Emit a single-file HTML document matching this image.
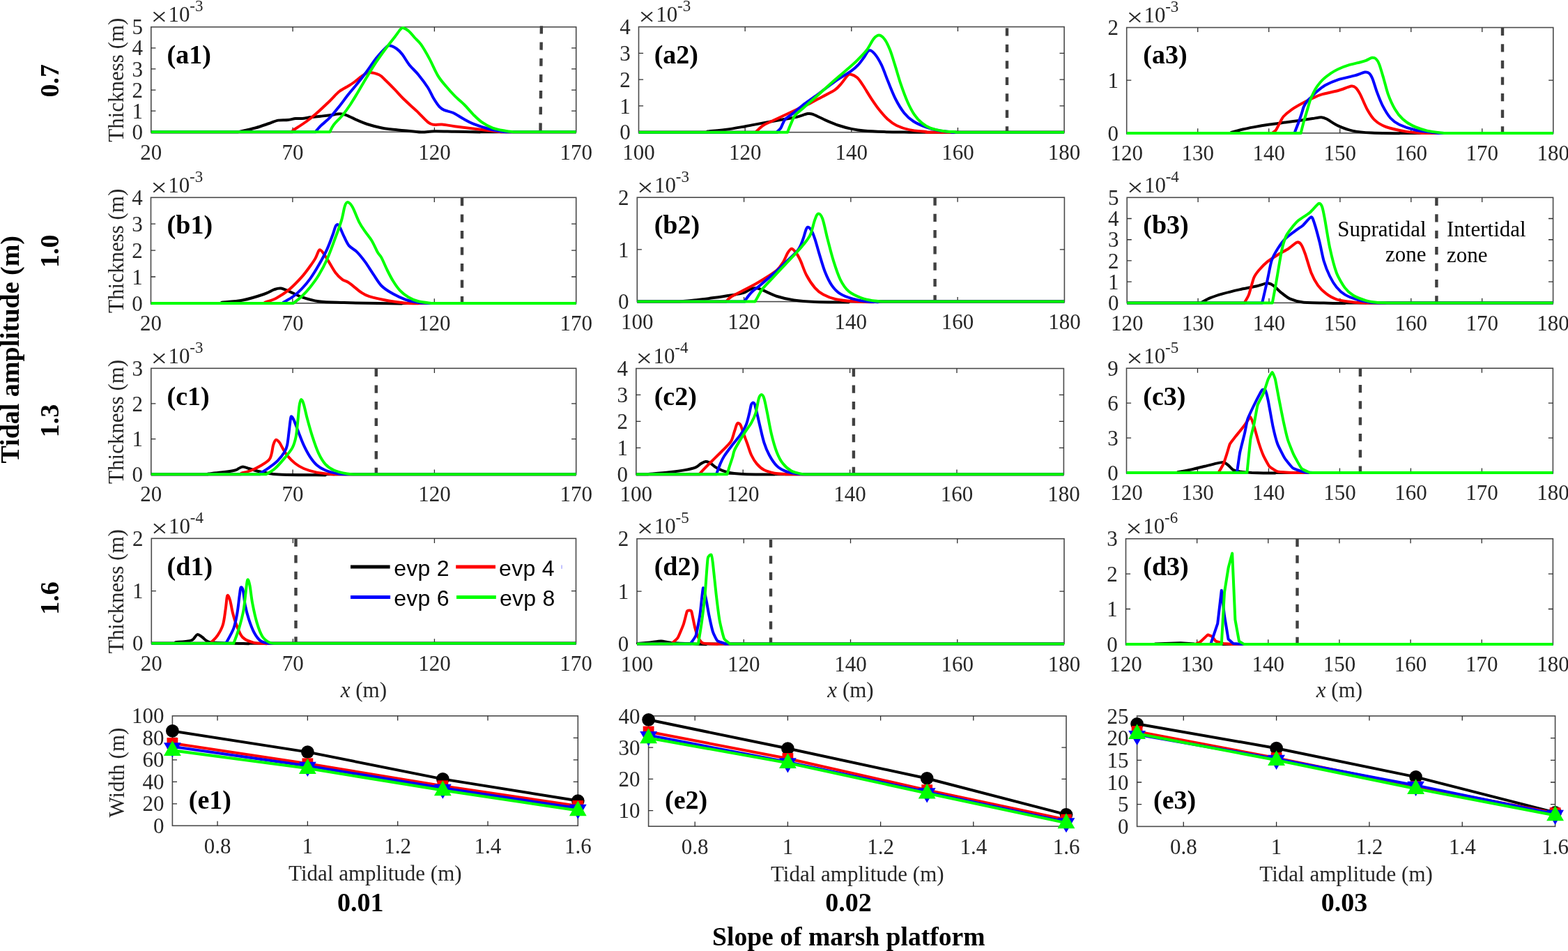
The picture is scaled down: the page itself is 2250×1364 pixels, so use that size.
<!DOCTYPE html><html><head><meta charset="utf-8"><title>Figure</title><style>html,body{margin:0;padding:0;background:#fff;overflow:hidden;}svg{display:block;}text{white-space:pre;}</style></head><body>
<svg width="2250" height="1364" viewBox="0 0 2250 1364">
<rect width="2250" height="1364" fill="#fff"/>
<rect x="216.8" y="38.7" width="609.9" height="150.6" fill="none" stroke="#4a4a4a" stroke-width="1.6"/>
<path d="M420.1,189.3v-6.6M420.1,38.7v6.6M623.4,189.3v-6.6M623.4,38.7v6.6M216.8,159.18h6.6M826.7,159.18h-6.6M216.8,129.06h6.6M826.7,129.06h-6.6M216.8,98.94h6.6M826.7,98.94h-6.6M216.8,68.82h6.6M826.7,68.82h-6.6" stroke="#2e2e2e" stroke-width="1.3" fill="none"/>
<text x="216.8" y="228.5" font-size="31" text-anchor="middle" font-weight="normal" fill="#262626" font-family="'Liberation Serif','Times New Roman',serif">20</text>
<text x="420.1" y="228.5" font-size="31" text-anchor="middle" font-weight="normal" fill="#262626" font-family="'Liberation Serif','Times New Roman',serif">70</text>
<text x="623.4" y="228.5" font-size="31" text-anchor="middle" font-weight="normal" fill="#262626" font-family="'Liberation Serif','Times New Roman',serif">120</text>
<text x="826.7" y="228.5" font-size="31" text-anchor="middle" font-weight="normal" fill="#262626" font-family="'Liberation Serif','Times New Roman',serif">170</text>
<text x="205" y="199.9" font-size="31" text-anchor="end" font-weight="normal" fill="#262626" font-family="'Liberation Serif','Times New Roman',serif">0</text>
<text x="205" y="169.78" font-size="31" text-anchor="end" font-weight="normal" fill="#262626" font-family="'Liberation Serif','Times New Roman',serif">1</text>
<text x="205" y="139.66" font-size="31" text-anchor="end" font-weight="normal" fill="#262626" font-family="'Liberation Serif','Times New Roman',serif">2</text>
<text x="205" y="109.54" font-size="31" text-anchor="end" font-weight="normal" fill="#262626" font-family="'Liberation Serif','Times New Roman',serif">3</text>
<text x="205" y="79.42" font-size="31" text-anchor="end" font-weight="normal" fill="#262626" font-family="'Liberation Serif','Times New Roman',serif">4</text>
<text x="205" y="49.3" font-size="31" text-anchor="end" font-weight="normal" fill="#262626" font-family="'Liberation Serif','Times New Roman',serif">5</text>
<text x="0" y="0" font-size="35" text-anchor="start" font-weight="normal" fill="#262626" font-family="'Liberation Serif','Times New Roman',serif" transform="translate(216.5,36.1) scale(1.2,1)">×</text>
<text x="241.6" y="31.3" font-size="31" text-anchor="start" font-weight="normal" fill="#262626" font-family="'Liberation Serif','Times New Roman',serif">10</text>
<text x="272.3" y="16.1" font-size="23" text-anchor="start" font-weight="normal" fill="#262626" font-family="'Liberation Serif','Times New Roman',serif">-3</text>
<line x1="776.9" y1="37.3" x2="775.5" y2="188.8" stroke="#404040" stroke-width="4.4" stroke-dasharray="11.13 12.05"/>
<path d="M216.8,189.3 L341.5,189.3 L341.5,189.2 C345.65,188.25 358.93,185.53 366.4,183.5 C373.87,181.47 380.9,178.82 386.3,177 C391.7,175.18 394.3,173.43 398.8,172.6 C403.3,171.77 409.1,172.43 413.3,172 C417.5,171.57 420.67,170.33 424,170 C427.33,169.67 429.52,170.33 433.3,170 C437.08,169.67 442.25,168.55 446.7,168 C451.15,167.45 455.57,167.15 460,166.7 C464.43,166.25 468.63,165.87 473.3,165.3 C477.97,164.73 484,163.3 488,163.3 C492,163.3 493.08,163.73 497.3,165.3 C501.52,166.87 508.4,170.58 513.3,172.7 C518.2,174.82 521.13,176.23 526.7,178 C532.27,179.77 541.15,182.08 546.7,183.3 C552.25,184.52 554.45,184.65 560,185.3 C565.55,185.95 572.63,186.48 580,187.2 C587.37,187.92 596.95,189.43 604.2,189.6 C611.45,189.77 615.43,188.35 623.5,188.2 C631.57,188.05 641.7,188.5 652.6,188.7 C663.5,188.9 682.85,189.28 688.9,189.4 L688.9,189.3 L826.7,189.3" fill="none" stroke="#000000" stroke-width="4.0" stroke-linejoin="round" stroke-linecap="butt"/>
<path d="M216.8,189.3 L420,189.3 L420,187.3 C423.33,185.08 434.45,178 440,174 C445.55,170 447.75,168.18 453.3,163.3 C458.85,158.42 467.73,150.03 473.3,144.7 C478.87,139.37 482.25,134.87 486.7,131.3 C491.15,127.73 496.45,125.52 500,123.3 C503.55,121.08 504.67,120.43 508,118 C511.33,115.57 516.45,111.03 520,108.7 C523.55,106.37 525.3,104.23 529.3,104 C533.3,103.77 540,105.42 544,107.3 C548,109.18 549.52,111.73 553.3,115.3 C557.08,118.87 562.25,124.12 566.7,128.7 C571.15,133.28 574.77,137.68 580,142.8 C585.23,147.92 592.45,154.02 598.1,159.4 C603.75,164.78 609.87,171.87 613.9,175.1 C617.93,178.33 618.88,178.23 622.3,178.8 C625.72,179.37 629.35,178.1 634.4,178.5 C639.45,178.9 645.53,180.25 652.6,181.2 C659.67,182.15 668.73,183.2 676.8,184.2 C684.87,185.2 693.95,186.35 701,187.2 C708.05,188.05 716.08,188.95 719.1,189.3 L719.1,189.3 L826.7,189.3" fill="none" stroke="#ff0000" stroke-width="4.0" stroke-linejoin="round" stroke-linecap="butt"/>
<path d="M216.8,189.3 L453.3,189.3 L453.3,188.5 C454.42,187.2 456.67,184 460,180.7 C463.33,177.4 468.85,173.37 473.3,168.7 C477.75,164.03 482.25,158.27 486.7,152.7 C491.15,147.13 495.57,140.87 500,135.3 C504.43,129.73 508.85,124.85 513.3,119.3 C517.75,113.75 522.25,108 526.7,102 C531.15,96 535.57,88.85 540,83.3 C544.43,77.75 550.18,71.7 553.3,68.7 C556.42,65.7 556.03,65.08 558.7,65.3 C561.37,65.52 566.2,67.88 569.3,70 C572.4,72.12 574.3,74.18 577.3,78 C580.3,81.82 583.42,88 587.3,92.9 C591.18,97.8 596.17,101.97 600.6,107.4 C605.03,112.83 610.28,119.85 613.9,125.5 C617.52,131.15 619.48,136.65 622.3,141.3 C625.12,145.95 628.17,150.58 630.8,153.4 C633.43,156.22 634.88,156.8 638.1,158.2 C641.32,159.6 645.67,159.78 650.1,161.8 C654.53,163.82 659.85,167.67 664.7,170.3 C669.55,172.93 673.15,175.18 679.2,177.6 C685.25,180.02 694.35,183 701,184.8 C707.65,186.6 714.07,187.65 719.1,188.4 C724.13,189.15 729.18,189.15 731.2,189.3 L731.2,189.3 L826.7,189.3" fill="none" stroke="#0000ff" stroke-width="4.0" stroke-linejoin="round" stroke-linecap="butt"/>
<path d="M216.8,189.3 L473.3,189.3 L473.3,189.3 C474.2,187.63 475.58,183.4 478.7,179.3 C481.82,175.2 488,169.58 492,164.7 C496,159.82 499.15,155.33 502.7,150 C506.25,144.67 509.3,139.37 513.3,132.7 C517.3,126.03 522.25,117.33 526.7,110 C531.15,102.67 535.57,95.37 540,88.7 C544.43,82.03 548.85,76 553.3,70 C557.75,64 563.13,57.37 566.7,52.7 C570.27,48.03 572.7,44.12 574.7,42 C576.7,39.88 576.7,39.55 578.7,40 C580.7,40.45 583.98,42.37 586.7,44.7 C589.42,47.03 592.08,50.8 595,54 C597.92,57.2 600.65,58.83 604.2,63.9 C607.75,68.97 612.27,76.95 616.3,84.4 C620.33,91.85 624.37,101.95 628.4,108.6 C632.43,115.25 636.47,119.47 640.5,124.3 C644.53,129.13 648.17,133.15 652.6,137.6 C657.03,142.05 662.67,146.55 667.1,151 C671.53,155.45 675.17,160.28 679.2,164.3 C683.23,168.32 686.67,171.88 691.3,175.1 C695.93,178.32 701.37,181.48 707,183.6 C712.63,185.72 720.07,186.85 725.1,187.8 C730.13,188.75 735.18,189.05 737.2,189.3 L737.2,189.3 L826.7,189.3" fill="none" stroke="#00ff00" stroke-width="4.0" stroke-linejoin="round" stroke-linecap="butt"/>
<text x="239.6" y="91.2" font-size="38" text-anchor="start" font-weight="bold" fill="#000" font-family="'Liberation Serif','Times New Roman',serif">(a1)</text>
<rect x="916.5" y="38.5" width="610.6" height="151.2" fill="none" stroke="#4a4a4a" stroke-width="1.6"/>
<path d="M1069.15,189.7v-6.6M1069.15,38.5v6.6M1221.8,189.7v-6.6M1221.8,38.5v6.6M1374.45,189.7v-6.6M1374.45,38.5v6.6M916.5,151.9h6.6M1527.1,151.9h-6.6M916.5,114.1h6.6M1527.1,114.1h-6.6M916.5,76.3h6.6M1527.1,76.3h-6.6" stroke="#2e2e2e" stroke-width="1.3" fill="none"/>
<text x="916.5" y="228.9" font-size="31" text-anchor="middle" font-weight="normal" fill="#262626" font-family="'Liberation Serif','Times New Roman',serif">100</text>
<text x="1069.15" y="228.9" font-size="31" text-anchor="middle" font-weight="normal" fill="#262626" font-family="'Liberation Serif','Times New Roman',serif">120</text>
<text x="1221.8" y="228.9" font-size="31" text-anchor="middle" font-weight="normal" fill="#262626" font-family="'Liberation Serif','Times New Roman',serif">140</text>
<text x="1374.45" y="228.9" font-size="31" text-anchor="middle" font-weight="normal" fill="#262626" font-family="'Liberation Serif','Times New Roman',serif">160</text>
<text x="1527.1" y="228.9" font-size="31" text-anchor="middle" font-weight="normal" fill="#262626" font-family="'Liberation Serif','Times New Roman',serif">180</text>
<text x="904.7" y="200.3" font-size="31" text-anchor="end" font-weight="normal" fill="#262626" font-family="'Liberation Serif','Times New Roman',serif">0</text>
<text x="904.7" y="162.5" font-size="31" text-anchor="end" font-weight="normal" fill="#262626" font-family="'Liberation Serif','Times New Roman',serif">1</text>
<text x="904.7" y="124.7" font-size="31" text-anchor="end" font-weight="normal" fill="#262626" font-family="'Liberation Serif','Times New Roman',serif">2</text>
<text x="904.7" y="86.9" font-size="31" text-anchor="end" font-weight="normal" fill="#262626" font-family="'Liberation Serif','Times New Roman',serif">3</text>
<text x="904.7" y="49.1" font-size="31" text-anchor="end" font-weight="normal" fill="#262626" font-family="'Liberation Serif','Times New Roman',serif">4</text>
<text x="0" y="0" font-size="35" text-anchor="start" font-weight="normal" fill="#262626" font-family="'Liberation Serif','Times New Roman',serif" transform="translate(916.2,35.9) scale(1.2,1)">×</text>
<text x="941.3" y="31.1" font-size="31" text-anchor="start" font-weight="normal" fill="#262626" font-family="'Liberation Serif','Times New Roman',serif">10</text>
<text x="972" y="15.9" font-size="23" text-anchor="start" font-weight="normal" fill="#262626" font-family="'Liberation Serif','Times New Roman',serif">-3</text>
<line x1="1445" y1="40.3" x2="1445" y2="189.2" stroke="#404040" stroke-width="4.4" stroke-dasharray="11.27 12.21"/>
<path d="M916.5,189.7 L1015.1,189.7 L1015.1,188.5 C1019.33,188.1 1031.43,187.32 1040.5,186.1 C1049.57,184.88 1060.43,182.82 1069.5,181.2 C1078.57,179.58 1085.62,178.1 1094.9,176.4 C1104.18,174.7 1117.13,172.42 1125.2,171 C1133.27,169.58 1137.65,169.22 1143.3,167.9 C1148.95,166.58 1155.07,163.7 1159.1,163.1 C1163.13,162.5 1163.07,162.68 1167.5,164.3 C1171.93,165.92 1179.65,170.18 1185.7,172.8 C1191.75,175.42 1197.75,177.98 1203.8,180 C1209.85,182.02 1215.97,183.63 1222,184.9 C1228.03,186.17 1232.27,186.9 1240,187.6 C1247.73,188.3 1257.62,188.75 1268.4,189.1 C1279.18,189.45 1298.65,189.6 1304.7,189.7 L1304.7,189.7 L1527.1,189.7" fill="none" stroke="#000000" stroke-width="4.0" stroke-linejoin="round" stroke-linecap="butt"/>
<path d="M916.5,189.7 L1085.3,189.7 L1085.3,188.5 C1086.9,187.08 1091.28,182.42 1094.9,180 C1098.52,177.58 1101.95,176.42 1107,174 C1112.05,171.58 1119.15,168.33 1125.2,165.5 C1131.25,162.67 1137.25,159.82 1143.3,157 C1149.35,154.18 1155.45,151.62 1161.5,148.6 C1167.55,145.58 1173.55,142.13 1179.6,138.9 C1185.65,135.67 1193.15,132.43 1197.8,129.2 C1202.45,125.97 1204.48,122.93 1207.5,119.5 C1210.52,116.07 1213.78,110.77 1215.9,108.6 C1218.02,106.43 1217.9,106.08 1220.2,106.5 C1222.5,106.92 1226.72,108.52 1229.7,111.1 C1232.68,113.68 1234.68,116.97 1238.1,122 C1241.52,127.03 1246.17,135.25 1250.2,141.3 C1254.23,147.35 1258.27,153.25 1262.3,158.3 C1266.33,163.35 1270.37,167.98 1274.4,171.6 C1278.43,175.22 1281.45,177.58 1286.5,180 C1291.55,182.42 1297.63,184.58 1304.7,186.1 C1311.77,187.62 1324.87,188.6 1328.9,189.1 L1328.9,189.7 L1527.1,189.7" fill="none" stroke="#ff0000" stroke-width="4.0" stroke-linejoin="round" stroke-linecap="butt"/>
<path d="M916.5,189.7 L1115.5,189.7 L1115.5,188.5 C1116.32,187.7 1118.58,186.52 1120.4,183.7 C1122.22,180.88 1123.58,175.03 1126.4,171.6 C1129.22,168.17 1133.07,166.53 1137.3,163.1 C1141.53,159.67 1145.75,155.63 1151.8,151 C1157.85,146.37 1165.93,140.95 1173.6,135.3 C1181.27,129.65 1189.73,122.75 1197.8,117.1 C1205.87,111.45 1216.3,105.5 1222,101.4 C1227.7,97.3 1229,95.73 1232,92.5 C1235,89.27 1237.47,85.37 1240,82 C1242.53,78.63 1244.68,73.1 1247.2,72.3 C1249.72,71.5 1252.17,73.77 1255.1,77.2 C1258.03,80.63 1261.58,86.25 1264.8,92.9 C1268.02,99.55 1270.98,108.83 1274.4,117.1 C1277.82,125.37 1281.47,135.03 1285.3,142.5 C1289.13,149.97 1293.17,156.65 1297.4,161.9 C1301.63,167.15 1305.45,170.58 1310.7,174 C1315.95,177.42 1322.85,180.18 1328.9,182.4 C1334.95,184.62 1340.95,186.15 1347,187.3 C1353.05,188.45 1362.17,188.97 1365.2,189.3 L1365.2,189.7 L1527.1,189.7" fill="none" stroke="#0000ff" stroke-width="4.0" stroke-linejoin="round" stroke-linecap="butt"/>
<path d="M916.5,189.7 L1130,189.7 L1130,189.7 C1130.82,187.68 1133.08,181.63 1134.9,177.6 C1136.72,173.57 1138.08,169.13 1140.9,165.5 C1143.72,161.87 1146.35,160.63 1151.8,155.8 C1157.25,150.97 1165.93,143.35 1173.6,136.5 C1181.27,129.65 1189.73,121.77 1197.8,114.7 C1205.87,107.63 1216.28,99.15 1222,94.1 C1227.72,89.05 1228.4,88.23 1232.1,84.4 C1235.8,80.57 1240.57,75.93 1244.2,71.1 C1247.83,66.27 1250.98,58.82 1253.9,55.4 C1256.82,51.98 1259.08,50.4 1261.7,50.6 C1264.32,50.8 1267.07,53.18 1269.6,56.6 C1272.13,60.02 1274.48,65.05 1276.9,71.1 C1279.32,77.15 1281.48,84.63 1284.1,92.9 C1286.72,101.17 1289.57,111.82 1292.6,120.7 C1295.63,129.58 1299.07,138.93 1302.3,146.2 C1305.53,153.47 1308.58,159.27 1312,164.3 C1315.42,169.33 1318.98,173.17 1322.8,176.4 C1326.62,179.63 1329.85,181.78 1334.9,183.7 C1339.95,185.62 1347.05,186.97 1353.1,187.9 C1359.15,188.83 1368.18,189.07 1371.2,189.3 L1371.2,189.7 L1527.1,189.7" fill="none" stroke="#00ff00" stroke-width="4.0" stroke-linejoin="round" stroke-linecap="butt"/>
<text x="938.7" y="91.2" font-size="38" text-anchor="start" font-weight="bold" fill="#000" font-family="'Liberation Serif','Times New Roman',serif">(a2)</text>
<rect x="1616.7" y="39.5" width="612.1" height="151.4" fill="none" stroke="#4a4a4a" stroke-width="1.6"/>
<path d="M1718.72,190.9v-6.6M1718.72,39.5v6.6M1820.73,190.9v-6.6M1820.73,39.5v6.6M1922.75,190.9v-6.6M1922.75,39.5v6.6M2024.77,190.9v-6.6M2024.77,39.5v6.6M2126.78,190.9v-6.6M2126.78,39.5v6.6M1616.7,115.2h6.6M2228.8,115.2h-6.6" stroke="#2e2e2e" stroke-width="1.3" fill="none"/>
<text x="1616.7" y="230.1" font-size="31" text-anchor="middle" font-weight="normal" fill="#262626" font-family="'Liberation Serif','Times New Roman',serif">120</text>
<text x="1718.72" y="230.1" font-size="31" text-anchor="middle" font-weight="normal" fill="#262626" font-family="'Liberation Serif','Times New Roman',serif">130</text>
<text x="1820.73" y="230.1" font-size="31" text-anchor="middle" font-weight="normal" fill="#262626" font-family="'Liberation Serif','Times New Roman',serif">140</text>
<text x="1922.75" y="230.1" font-size="31" text-anchor="middle" font-weight="normal" fill="#262626" font-family="'Liberation Serif','Times New Roman',serif">150</text>
<text x="2024.77" y="230.1" font-size="31" text-anchor="middle" font-weight="normal" fill="#262626" font-family="'Liberation Serif','Times New Roman',serif">160</text>
<text x="2126.78" y="230.1" font-size="31" text-anchor="middle" font-weight="normal" fill="#262626" font-family="'Liberation Serif','Times New Roman',serif">170</text>
<text x="2228.8" y="230.1" font-size="31" text-anchor="middle" font-weight="normal" fill="#262626" font-family="'Liberation Serif','Times New Roman',serif">180</text>
<text x="1604.9" y="201.5" font-size="31" text-anchor="end" font-weight="normal" fill="#262626" font-family="'Liberation Serif','Times New Roman',serif">0</text>
<text x="1604.9" y="125.8" font-size="31" text-anchor="end" font-weight="normal" fill="#262626" font-family="'Liberation Serif','Times New Roman',serif">1</text>
<text x="1604.9" y="50.1" font-size="31" text-anchor="end" font-weight="normal" fill="#262626" font-family="'Liberation Serif','Times New Roman',serif">2</text>
<text x="0" y="0" font-size="35" text-anchor="start" font-weight="normal" fill="#262626" font-family="'Liberation Serif','Times New Roman',serif" transform="translate(1616.4,36.9) scale(1.2,1)">×</text>
<text x="1641.5" y="32.1" font-size="31" text-anchor="start" font-weight="normal" fill="#262626" font-family="'Liberation Serif','Times New Roman',serif">10</text>
<text x="1672.2" y="16.9" font-size="23" text-anchor="start" font-weight="normal" fill="#262626" font-family="'Liberation Serif','Times New Roman',serif">-3</text>
<line x1="2156" y1="39.6" x2="2156" y2="190.4" stroke="#404040" stroke-width="4.4" stroke-dasharray="11.33 12.27"/>
<path d="M1616.7,190.9 L1766.3,190.9 L1766.3,190.1 C1768.57,189.49 1778.98,186.53 1783.3,185.5 C1787.62,184.47 1793.57,183.32 1798.7,182.4 C1803.83,181.48 1815.64,179.52 1821.8,178.6 C1827.96,177.68 1838.74,176.33 1844.9,175.5 C1851.06,174.67 1862.87,173.12 1868,172.4 C1873.13,171.68 1879.67,170.66 1883.4,170.1 C1887.13,169.54 1893.25,168.11 1896,168.2 C1898.75,168.29 1900.8,169.17 1904,170.8 C1907.2,172.43 1915.09,178.16 1920,180.4 C1924.91,182.64 1934.4,186.24 1940.8,187.6 C1947.2,188.96 1959.04,190.12 1968,190.6 C1976.96,191.08 2002.67,191.12 2008,191.2 L2008,190.9 L2228.8,190.9" fill="none" stroke="#000000" stroke-width="4.0" stroke-linejoin="round" stroke-linecap="butt"/>
<path d="M1616.7,190.9 L1826.4,190.9 L1826.4,190.1 C1827.01,189.59 1829.56,188.35 1831,186.3 C1832.44,184.25 1835.76,177.27 1837.2,174.7 C1838.64,172.13 1839.75,169.25 1841.8,167 C1843.85,164.75 1849.11,160.25 1852.6,157.8 C1856.09,155.35 1863.89,150.85 1868,148.6 C1872.11,146.35 1879.67,142.63 1883.4,140.9 C1887.13,139.17 1891.12,137.05 1896,135.6 C1900.88,134.15 1914.24,131.6 1920,130 C1925.76,128.4 1935.79,124.13 1939.2,123.6 C1942.61,123.07 1943.89,124.4 1945.6,126 C1947.31,127.6 1949.87,131.55 1952,135.6 C1954.13,139.65 1958.83,151.49 1961.6,156.4 C1964.37,161.31 1969.17,168.99 1972.8,172.4 C1976.43,175.81 1983.04,179.87 1988.8,182 C1994.56,184.13 2009.17,187.21 2016,188.4 C2022.83,189.59 2036.8,190.57 2040,190.9 L2040,190.9 L2228.8,190.9" fill="none" stroke="#ff0000" stroke-width="4.0" stroke-linejoin="round" stroke-linecap="butt"/>
<path d="M1616.7,190.9 L1857.7,190.9 L1857.7,190.1 C1858.42,188.25 1861.77,179.8 1863.1,176.2 C1864.43,172.6 1866.67,166.18 1867.7,163.1 C1868.73,160.02 1869.77,155.46 1870.8,153.1 C1871.83,150.74 1873.96,147.24 1875.4,145.4 C1876.84,143.56 1879.75,141.14 1881.6,139.3 C1883.45,137.46 1886.63,133.87 1889.3,131.6 C1891.97,129.33 1897.51,124.61 1901.6,122.3 C1905.69,119.99 1914.35,116.15 1920,114.3 C1925.65,112.45 1938.88,109.83 1944,108.4 C1949.12,106.97 1955.63,104.03 1958.4,103.6 C1961.17,103.17 1963.31,103.92 1964.8,105.2 C1966.29,106.48 1968.11,109.57 1969.6,113.2 C1971.09,116.83 1974.08,127.28 1976,132.4 C1977.92,137.52 1981.44,146.69 1984,151.6 C1986.56,156.51 1992,165.57 1995.2,169.2 C1998.4,172.83 2003.09,176.45 2008,178.8 C2012.91,181.15 2024.53,185.19 2032,186.8 C2039.47,188.41 2059.73,190.35 2064,190.9 L2064,190.9 L2228.8,190.9" fill="none" stroke="#0000ff" stroke-width="4.0" stroke-linejoin="round" stroke-linecap="butt"/>
<path d="M1616.7,190.9 L1866.6,190.9 L1866.6,190.9 C1867.16,188.74 1869.63,178.91 1870.8,174.7 C1871.97,170.49 1874.17,163.41 1875.4,159.3 C1876.63,155.19 1878.76,147.39 1880,143.9 C1881.24,140.41 1883.37,135.77 1884.7,133.1 C1886.03,130.43 1888.27,126.37 1890,123.9 C1891.73,121.43 1895.13,117.07 1897.7,114.6 C1900.27,112.13 1906.33,107.45 1909.3,105.4 C1912.27,103.35 1916.44,100.83 1920,99.2 C1923.56,97.57 1931.73,94.53 1936,93.2 C1940.27,91.87 1948.8,90.05 1952,89.2 C1955.2,88.35 1957.76,87.65 1960,86.8 C1962.24,85.95 1966.88,83.12 1968.8,82.8 C1970.72,82.48 1973.01,83.12 1974.4,84.4 C1975.79,85.68 1977.71,88.56 1979.2,92.4 C1980.69,96.24 1983.89,107.44 1985.6,113.2 C1987.31,118.96 1989.87,129.84 1992,135.6 C1994.13,141.36 1998.83,151.71 2001.6,156.4 C2004.37,161.09 2009.39,167.6 2012.8,170.8 C2016.21,174 2022.51,178.16 2027.2,180.4 C2031.89,182.64 2042.03,186.2 2048,187.6 C2053.97,189 2068.8,190.46 2072,190.9 L2072,190.9 L2228.8,190.9" fill="none" stroke="#00ff00" stroke-width="4.0" stroke-linejoin="round" stroke-linecap="butt"/>
<text x="1640.3" y="91.2" font-size="38" text-anchor="start" font-weight="bold" fill="#000" font-family="'Liberation Serif','Times New Roman',serif">(a3)</text>
<rect x="216.5" y="283.3" width="610.2" height="151.6" fill="none" stroke="#4a4a4a" stroke-width="1.6"/>
<path d="M419.9,434.9v-6.6M419.9,283.3v6.6M623.3,434.9v-6.6M623.3,283.3v6.6M216.5,397h6.6M826.7,397h-6.6M216.5,359.1h6.6M826.7,359.1h-6.6M216.5,321.2h6.6M826.7,321.2h-6.6" stroke="#2e2e2e" stroke-width="1.3" fill="none"/>
<text x="216.5" y="474.1" font-size="31" text-anchor="middle" font-weight="normal" fill="#262626" font-family="'Liberation Serif','Times New Roman',serif">20</text>
<text x="419.9" y="474.1" font-size="31" text-anchor="middle" font-weight="normal" fill="#262626" font-family="'Liberation Serif','Times New Roman',serif">70</text>
<text x="623.3" y="474.1" font-size="31" text-anchor="middle" font-weight="normal" fill="#262626" font-family="'Liberation Serif','Times New Roman',serif">120</text>
<text x="826.7" y="474.1" font-size="31" text-anchor="middle" font-weight="normal" fill="#262626" font-family="'Liberation Serif','Times New Roman',serif">170</text>
<text x="204.7" y="445.5" font-size="31" text-anchor="end" font-weight="normal" fill="#262626" font-family="'Liberation Serif','Times New Roman',serif">0</text>
<text x="204.7" y="407.6" font-size="31" text-anchor="end" font-weight="normal" fill="#262626" font-family="'Liberation Serif','Times New Roman',serif">1</text>
<text x="204.7" y="369.7" font-size="31" text-anchor="end" font-weight="normal" fill="#262626" font-family="'Liberation Serif','Times New Roman',serif">2</text>
<text x="204.7" y="331.8" font-size="31" text-anchor="end" font-weight="normal" fill="#262626" font-family="'Liberation Serif','Times New Roman',serif">3</text>
<text x="204.7" y="293.9" font-size="31" text-anchor="end" font-weight="normal" fill="#262626" font-family="'Liberation Serif','Times New Roman',serif">4</text>
<text x="0" y="0" font-size="35" text-anchor="start" font-weight="normal" fill="#262626" font-family="'Liberation Serif','Times New Roman',serif" transform="translate(216.2,280.7) scale(1.2,1)">×</text>
<text x="241.3" y="275.9" font-size="31" text-anchor="start" font-weight="normal" fill="#262626" font-family="'Liberation Serif','Times New Roman',serif">10</text>
<text x="272" y="260.7" font-size="23" text-anchor="start" font-weight="normal" fill="#262626" font-family="'Liberation Serif','Times New Roman',serif">-3</text>
<line x1="663" y1="284.1" x2="663" y2="434.4" stroke="#404040" stroke-width="4.4" stroke-dasharray="11.27 12.21"/>
<path d="M216.5,434.9 L318.1,434.9 L318.1,433.8 C323.15,433.25 338.32,432.47 348.4,430.5 C358.48,428.53 371.13,424.52 378.6,422 C386.07,419.48 389.17,416.82 393.2,415.4 C397.23,413.98 399.18,413.1 402.8,413.5 C406.42,413.9 409.85,415.68 414.9,417.8 C419.95,419.92 426.03,423.78 433.1,426.2 C440.17,428.62 447.22,430.98 457.3,432.3 C467.38,433.62 476.48,433.6 493.6,434.1 C510.72,434.6 546.22,435.05 560,435.3 C573.78,435.55 573.58,435.55 576.3,435.6 L576.3,434.9 L826.7,434.9" fill="none" stroke="#000000" stroke-width="4.0" stroke-linejoin="round" stroke-linecap="butt"/>
<path d="M216.5,434.9 L379.9,434.9 L379.9,433.8 C382.72,432.73 390.97,430.47 396.8,427.4 C402.63,424.33 408.85,420.43 414.9,415.4 C420.95,410.37 428.05,402.85 433.1,397.2 C438.15,391.55 441.97,385.93 445.2,381.5 C448.43,377.07 450.48,374.23 452.5,370.6 C454.52,366.97 456.1,361.72 457.3,359.7 C458.5,357.68 458.7,358.1 459.7,358.5 C460.7,358.9 461.28,359.28 463.3,362.1 C465.32,364.92 468.77,370.55 471.8,375.4 C474.83,380.25 478.27,386.97 481.5,391.2 C484.73,395.43 487.98,398.38 491.2,400.8 C494.42,403.22 496.37,402.67 500.8,405.7 C505.23,408.73 512.95,415.75 517.8,419 C522.65,422.25 523.18,423.12 529.9,425.2 C536.62,427.28 549.37,429.92 558.1,431.5 C566.83,433.08 575.23,434.08 582.3,434.7 C589.37,435.32 597.47,435.12 600.5,435.2 L600.5,434.9 L826.7,434.9" fill="none" stroke="#ff0000" stroke-width="4.0" stroke-linejoin="round" stroke-linecap="butt"/>
<path d="M216.5,434.9 L406.5,434.9 L406.5,433.8 C408.92,432.33 416.57,428.28 421,425 C425.43,421.72 429.07,418.33 433.1,414.1 C437.13,409.87 441.17,405.23 445.2,399.6 C449.23,393.97 453.27,387.35 457.3,380.3 C461.33,373.25 465.97,364.77 469.4,357.3 C472.83,349.83 475.88,340.95 477.9,335.5 C479.92,330.05 480.3,326.82 481.5,324.6 C482.7,322.38 483.9,321.6 485.1,322.2 C486.3,322.8 487.28,325.38 488.7,328.2 C490.12,331.02 491.58,335.07 493.6,339.1 C495.62,343.13 497.78,348.77 500.8,352.4 C503.82,356.03 507.87,357.07 511.7,360.9 C515.53,364.73 519.77,369.95 523.8,375.4 C527.83,380.85 531.87,387.75 535.9,393.6 C539.93,399.45 543.28,405.83 548,410.5 C552.72,415.17 558.48,418.37 564.2,421.6 C569.92,424.83 576.25,427.82 582.3,429.9 C588.35,431.98 595.45,433.27 600.5,434.1 C605.55,434.93 610.58,434.77 612.6,434.9 L612.6,434.9 L826.7,434.9" fill="none" stroke="#0000ff" stroke-width="4.0" stroke-linejoin="round" stroke-linecap="butt"/>
<path d="M216.5,434.9 L421,434.9 L421,434.9 C423.02,433.25 429.07,428.87 433.1,425 C437.13,421.13 441.17,416.73 445.2,411.7 C449.23,406.67 453.27,401.45 457.3,394.8 C461.33,388.15 465.37,380.88 469.4,371.8 C473.43,362.72 478.07,349.58 481.5,340.3 C484.93,331.02 487.78,323.55 490,316.1 C492.22,308.65 493.3,299.93 494.8,295.6 C496.3,291.27 497.18,289.9 499,290.1 C500.82,290.3 502.97,292.05 505.7,296.8 C508.43,301.55 512.38,312.75 515.4,318.6 C518.42,324.45 520.78,327.47 523.8,331.9 C526.82,336.33 530.47,340.17 533.5,345.2 C536.53,350.23 539.7,358.07 542,362.1 C544.3,366.13 545.02,365.17 547.3,369.4 C549.58,373.63 552.88,381.85 555.7,387.5 C558.52,393.15 561.17,398.45 564.2,403.3 C567.23,408.15 570.27,412.78 573.9,416.6 C577.53,420.42 581.57,423.58 586,426.2 C590.43,428.82 595.07,430.85 600.5,432.3 C605.93,433.75 615.58,434.47 618.6,434.9 L618.6,434.9 L826.7,434.9" fill="none" stroke="#00ff00" stroke-width="4.0" stroke-linejoin="round" stroke-linecap="butt"/>
<text x="239.6" y="335.2" font-size="38" text-anchor="start" font-weight="bold" fill="#000" font-family="'Liberation Serif','Times New Roman',serif">(b1)</text>
<rect x="914.3" y="283.2" width="613.1" height="149.4" fill="none" stroke="#4a4a4a" stroke-width="1.6"/>
<path d="M1067.58,432.6v-6.6M1067.58,283.2v6.6M1220.85,432.6v-6.6M1220.85,283.2v6.6M1374.12,432.6v-6.6M1374.12,283.2v6.6M914.3,357.9h6.6M1527.4,357.9h-6.6" stroke="#2e2e2e" stroke-width="1.3" fill="none"/>
<text x="914.3" y="471.8" font-size="31" text-anchor="middle" font-weight="normal" fill="#262626" font-family="'Liberation Serif','Times New Roman',serif">100</text>
<text x="1067.58" y="471.8" font-size="31" text-anchor="middle" font-weight="normal" fill="#262626" font-family="'Liberation Serif','Times New Roman',serif">120</text>
<text x="1220.85" y="471.8" font-size="31" text-anchor="middle" font-weight="normal" fill="#262626" font-family="'Liberation Serif','Times New Roman',serif">140</text>
<text x="1374.12" y="471.8" font-size="31" text-anchor="middle" font-weight="normal" fill="#262626" font-family="'Liberation Serif','Times New Roman',serif">160</text>
<text x="1527.4" y="471.8" font-size="31" text-anchor="middle" font-weight="normal" fill="#262626" font-family="'Liberation Serif','Times New Roman',serif">180</text>
<text x="902.5" y="443.2" font-size="31" text-anchor="end" font-weight="normal" fill="#262626" font-family="'Liberation Serif','Times New Roman',serif">0</text>
<text x="902.5" y="368.5" font-size="31" text-anchor="end" font-weight="normal" fill="#262626" font-family="'Liberation Serif','Times New Roman',serif">1</text>
<text x="902.5" y="293.8" font-size="31" text-anchor="end" font-weight="normal" fill="#262626" font-family="'Liberation Serif','Times New Roman',serif">2</text>
<text x="0" y="0" font-size="35" text-anchor="start" font-weight="normal" fill="#262626" font-family="'Liberation Serif','Times New Roman',serif" transform="translate(914,280.6) scale(1.2,1)">×</text>
<text x="939.1" y="275.8" font-size="31" text-anchor="start" font-weight="normal" fill="#262626" font-family="'Liberation Serif','Times New Roman',serif">10</text>
<text x="969.8" y="260.6" font-size="23" text-anchor="start" font-weight="normal" fill="#262626" font-family="'Liberation Serif','Times New Roman',serif">-3</text>
<line x1="1341.6" y1="283.5" x2="1341.6" y2="432.1" stroke="#404040" stroke-width="4.4" stroke-dasharray="11.17 12.11"/>
<path d="M914.3,432.6 L975,432.6 L975,432.4 C979.17,432.03 991.8,431.08 1000,430.2 C1008.2,429.32 1016.13,428.22 1024.2,427.1 C1032.27,425.98 1041.35,424.65 1048.4,423.5 C1055.45,422.35 1061.47,421.77 1066.5,420.2 C1071.53,418.63 1075.17,415.22 1078.6,414.1 C1082.03,412.98 1084.07,412.98 1087.1,413.5 C1090.13,414.02 1092.17,415.28 1096.8,417.2 C1101.43,419.12 1107.85,422.78 1114.9,425 C1121.95,427.22 1130.02,429.18 1139.1,430.5 C1148.18,431.82 1156.28,432.4 1169.4,432.9 C1182.52,433.4 1209.73,433.4 1217.8,433.5 L1217.8,432.6 L1527.4,432.6" fill="none" stroke="#000000" stroke-width="4.0" stroke-linejoin="round" stroke-linecap="butt"/>
<path d="M914.3,432.6 L1042.3,432.6 L1042.3,432.3 C1043.32,431.28 1044.37,428.82 1048.4,426.2 C1052.43,423.58 1060.45,419.82 1066.5,416.6 C1072.55,413.38 1078.65,410.33 1084.7,406.9 C1090.75,403.47 1097.77,399.23 1102.8,396 C1107.83,392.77 1111.47,390.73 1114.9,387.5 C1118.33,384.27 1120.77,380.83 1123.4,376.6 C1126.03,372.37 1128.58,365.42 1130.7,362.1 C1132.82,358.78 1134.08,356.5 1136.1,356.7 C1138.12,356.9 1140.68,360.38 1142.8,363.3 C1144.92,366.22 1146.38,368.95 1148.8,374.2 C1151.22,379.45 1153.87,388.35 1157.3,394.8 C1160.73,401.25 1165.37,408.27 1169.4,412.9 C1173.43,417.53 1176.47,419.87 1181.5,422.6 C1186.53,425.33 1192.55,427.68 1199.6,429.3 C1206.65,430.92 1214.72,431.63 1223.8,432.3 C1232.88,432.97 1249.05,433.13 1254.1,433.3 L1254.1,432.6 L1527.4,432.6" fill="none" stroke="#ff0000" stroke-width="4.0" stroke-linejoin="round" stroke-linecap="butt"/>
<path d="M914.3,432.6 L1069,432.6 L1069,431.1 C1070.6,429.08 1074.98,422.63 1078.6,419 C1082.22,415.37 1085.65,413.53 1090.7,409.3 C1095.75,405.07 1102.85,399.05 1108.9,393.6 C1114.95,388.15 1120.95,382.45 1127,376.6 C1133.05,370.75 1140.97,364.13 1145.2,358.5 C1149.43,352.87 1150.58,347.43 1152.4,342.8 C1154.22,338.17 1154.98,333.53 1156.1,330.7 C1157.22,327.87 1157.7,325.8 1159.1,325.8 C1160.5,325.8 1162.78,327.87 1164.5,330.7 C1166.22,333.53 1167.58,337.37 1169.4,342.8 C1171.22,348.23 1172.98,355.43 1175.4,363.3 C1177.82,371.17 1180.87,382.33 1183.9,390 C1186.93,397.67 1189.97,404.07 1193.6,409.3 C1197.23,414.53 1200.67,418.17 1205.7,421.4 C1210.73,424.63 1217.75,426.88 1223.8,428.7 C1229.85,430.52 1235.97,431.55 1242,432.3 C1248.03,433.05 1257,433.05 1260,433.2 L1260,432.6 L1527.4,432.6" fill="none" stroke="#0000ff" stroke-width="4.0" stroke-linejoin="round" stroke-linecap="butt"/>
<path d="M914.3,432.6 L1083.5,432.6 L1083.5,432.6 C1084.1,431.53 1085.28,429.28 1087.1,426.2 C1088.92,423.12 1090.77,418.73 1094.4,414.1 C1098.03,409.47 1103.47,404.23 1108.9,398.4 C1114.33,392.57 1120.95,385.55 1127,379.1 C1133.05,372.65 1140.15,365.35 1145.2,359.7 C1150.25,354.05 1154.28,349.23 1157.3,345.2 C1160.32,341.17 1161.28,340.55 1163.3,335.5 C1165.32,330.45 1167.58,319.73 1169.4,314.9 C1171.22,310.07 1172.38,306.7 1174.2,306.5 C1176.02,306.3 1178.08,307.65 1180.3,313.7 C1182.52,319.75 1184.88,332.72 1187.5,342.8 C1190.12,352.88 1192.97,364.53 1196,374.2 C1199.03,383.87 1202.07,393.53 1205.7,400.8 C1209.33,408.07 1212.77,413.37 1217.8,417.8 C1222.83,422.23 1230.18,425.17 1235.9,427.4 C1241.62,429.63 1246.42,430.33 1252.1,431.2 C1257.78,432.07 1267.02,432.37 1270,432.6 L1270,432.6 L1527.4,432.6" fill="none" stroke="#00ff00" stroke-width="4.0" stroke-linejoin="round" stroke-linecap="butt"/>
<text x="938.7" y="335.2" font-size="38" text-anchor="start" font-weight="bold" fill="#000" font-family="'Liberation Serif','Times New Roman',serif">(b2)</text>
<rect x="1617.2" y="283.3" width="611.4" height="151.1" fill="none" stroke="#4a4a4a" stroke-width="1.6"/>
<path d="M1719.1,434.4v-6.6M1719.1,283.3v6.6M1821,434.4v-6.6M1821,283.3v6.6M1922.9,434.4v-6.6M1922.9,283.3v6.6M2024.8,434.4v-6.6M2024.8,283.3v6.6M2126.7,434.4v-6.6M2126.7,283.3v6.6M1617.2,404.18h6.6M2228.6,404.18h-6.6M1617.2,373.96h6.6M2228.6,373.96h-6.6M1617.2,343.74h6.6M2228.6,343.74h-6.6M1617.2,313.52h6.6M2228.6,313.52h-6.6" stroke="#2e2e2e" stroke-width="1.3" fill="none"/>
<text x="1617.2" y="473.6" font-size="31" text-anchor="middle" font-weight="normal" fill="#262626" font-family="'Liberation Serif','Times New Roman',serif">120</text>
<text x="1719.1" y="473.6" font-size="31" text-anchor="middle" font-weight="normal" fill="#262626" font-family="'Liberation Serif','Times New Roman',serif">130</text>
<text x="1821" y="473.6" font-size="31" text-anchor="middle" font-weight="normal" fill="#262626" font-family="'Liberation Serif','Times New Roman',serif">140</text>
<text x="1922.9" y="473.6" font-size="31" text-anchor="middle" font-weight="normal" fill="#262626" font-family="'Liberation Serif','Times New Roman',serif">150</text>
<text x="2024.8" y="473.6" font-size="31" text-anchor="middle" font-weight="normal" fill="#262626" font-family="'Liberation Serif','Times New Roman',serif">160</text>
<text x="2126.7" y="473.6" font-size="31" text-anchor="middle" font-weight="normal" fill="#262626" font-family="'Liberation Serif','Times New Roman',serif">170</text>
<text x="2228.6" y="473.6" font-size="31" text-anchor="middle" font-weight="normal" fill="#262626" font-family="'Liberation Serif','Times New Roman',serif">180</text>
<text x="1605.4" y="445" font-size="31" text-anchor="end" font-weight="normal" fill="#262626" font-family="'Liberation Serif','Times New Roman',serif">0</text>
<text x="1605.4" y="414.78" font-size="31" text-anchor="end" font-weight="normal" fill="#262626" font-family="'Liberation Serif','Times New Roman',serif">1</text>
<text x="1605.4" y="384.56" font-size="31" text-anchor="end" font-weight="normal" fill="#262626" font-family="'Liberation Serif','Times New Roman',serif">2</text>
<text x="1605.4" y="354.34" font-size="31" text-anchor="end" font-weight="normal" fill="#262626" font-family="'Liberation Serif','Times New Roman',serif">3</text>
<text x="1605.4" y="324.12" font-size="31" text-anchor="end" font-weight="normal" fill="#262626" font-family="'Liberation Serif','Times New Roman',serif">4</text>
<text x="1605.4" y="293.9" font-size="31" text-anchor="end" font-weight="normal" fill="#262626" font-family="'Liberation Serif','Times New Roman',serif">5</text>
<text x="0" y="0" font-size="35" text-anchor="start" font-weight="normal" fill="#262626" font-family="'Liberation Serif','Times New Roman',serif" transform="translate(1616.9,280.7) scale(1.2,1)">×</text>
<text x="1642" y="275.9" font-size="31" text-anchor="start" font-weight="normal" fill="#262626" font-family="'Liberation Serif','Times New Roman',serif">10</text>
<text x="1672.7" y="260.7" font-size="23" text-anchor="start" font-weight="normal" fill="#262626" font-family="'Liberation Serif','Times New Roman',serif">-4</text>
<line x1="2061.4" y1="283.8" x2="2061.4" y2="433.9" stroke="#404040" stroke-width="4.4" stroke-dasharray="11.24 12.18"/>
<path d="M1617.2,434.4 L1724.2,434.4 L1724.2,433.8 C1725.61,433.05 1732.78,428.85 1736.3,427.4 C1739.82,425.95 1749.47,422.8 1754.4,421.4 C1759.34,420 1772.95,416.67 1778.6,415.4 C1784.25,414.13 1798.56,411.49 1802.8,410.5 C1807.04,409.51 1812.92,407.39 1814.9,406.9 C1816.88,406.41 1818.39,406.02 1819.8,406.3 C1821.21,406.58 1824.75,407.68 1827,409.3 C1829.25,410.92 1836.28,417.94 1839.1,420.2 C1841.92,422.46 1847.66,427.15 1851.2,428.7 C1854.74,430.25 1863.04,432.8 1869.4,433.5 C1875.76,434.2 1898.63,434.52 1905.7,434.7 C1912.77,434.88 1927.16,434.96 1930,435 L1930,434.4 L2228.6,434.4" fill="none" stroke="#000000" stroke-width="4.0" stroke-linejoin="round" stroke-linecap="butt"/>
<path d="M1617.2,434.4 L1785.9,434.4 L1785.9,433.8 C1786.61,432.49 1790.45,426.73 1792,422.6 C1793.55,418.47 1797.51,402.5 1799.2,398.4 C1800.89,394.3 1804.24,390.18 1806.5,387.5 C1808.76,384.82 1815.5,377.94 1818.6,375.4 C1821.7,372.86 1829.58,367.88 1833.1,365.7 C1836.62,363.52 1845.56,358.81 1848.8,356.7 C1852.04,354.59 1858.78,348.31 1860.9,347.6 C1863.02,346.89 1865.59,348.63 1867,350.6 C1868.41,352.57 1871.31,359.76 1873,364.5 C1874.69,369.24 1879.38,385.97 1881.5,391.2 C1883.62,396.43 1888.66,405.78 1891.2,409.3 C1893.74,412.82 1900.2,419.07 1903.3,421.4 C1906.4,423.73 1913.28,427.89 1917.8,429.3 C1922.32,430.71 1937.08,432.87 1942,433.5 C1946.92,434.13 1957.9,434.56 1960,434.7 L1960,434.4 L2228.6,434.4" fill="none" stroke="#ff0000" stroke-width="4.0" stroke-linejoin="round" stroke-linecap="butt"/>
<path d="M1617.2,434.4 L1811.3,434.4 L1811.3,433.8 C1812.15,430.09 1817.05,408.95 1818.6,402 C1820.15,395.05 1822.91,379.41 1824.6,374.2 C1826.29,368.99 1830.7,361.12 1833.1,357.3 C1835.5,353.49 1841.96,344.75 1845.2,341.5 C1848.44,338.25 1858.08,331.51 1860.9,329.4 C1863.72,327.29 1867,325.51 1869.4,323.4 C1871.8,321.29 1879.53,311.58 1881.5,311.3 C1883.47,311.02 1884.89,316.76 1886.3,321 C1887.71,325.24 1892.05,341.39 1893.6,347.6 C1895.15,353.81 1897.91,368.55 1899.6,374.2 C1901.29,379.85 1905.98,391.62 1908.1,396 C1910.22,400.38 1915.26,408.6 1917.8,411.7 C1920.34,414.8 1926.38,420.48 1929.9,422.6 C1933.42,424.72 1943.9,428.63 1948,429.9 C1952.1,431.17 1961.27,432.95 1965,433.5 C1968.73,434.05 1978.25,434.47 1980,434.6 L1980,434.4 L2228.6,434.4" fill="none" stroke="#0000ff" stroke-width="4.0" stroke-linejoin="round" stroke-linecap="butt"/>
<path d="M1617.2,434.4 L1825.8,434.4 L1825.8,434.4 C1826.37,431.33 1829.15,416.81 1830.7,408.1 C1832.25,399.39 1837.41,367.75 1839.1,359.7 C1840.79,351.65 1843.65,342.78 1845.2,339.1 C1846.75,335.43 1850.29,330.88 1852.4,328.2 C1854.51,325.52 1860.18,318.78 1863.3,316.1 C1866.41,313.42 1875.7,308.02 1879.1,305.2 C1882.49,302.38 1890.29,292.88 1892.4,291.9 C1894.51,290.92 1896.21,294.26 1897.2,296.8 C1898.19,299.34 1899.63,306.92 1900.9,313.7 C1902.17,320.48 1906.13,345.86 1908.1,354.9 C1910.07,363.94 1915.26,384.43 1917.8,391.2 C1920.34,397.97 1927.08,409.1 1929.9,412.9 C1932.72,416.7 1938.49,421.68 1942,423.8 C1945.51,425.92 1956.15,429.93 1960,431.1 C1963.85,432.27 1971.5,433.42 1975,433.8 C1978.5,434.19 1988.25,434.33 1990,434.4 L1990,434.4 L2228.6,434.4" fill="none" stroke="#00ff00" stroke-width="4.0" stroke-linejoin="round" stroke-linecap="butt"/>
<text x="1640.3" y="335.2" font-size="38" text-anchor="start" font-weight="bold" fill="#000" font-family="'Liberation Serif','Times New Roman',serif">(b3)</text>
<rect x="216.8" y="528.3" width="609.9" height="151.9" fill="none" stroke="#4a4a4a" stroke-width="1.6"/>
<path d="M420.1,680.2v-6.6M420.1,528.3v6.6M623.4,680.2v-6.6M623.4,528.3v6.6M216.8,629.57h6.6M826.7,629.57h-6.6M216.8,578.93h6.6M826.7,578.93h-6.6" stroke="#2e2e2e" stroke-width="1.3" fill="none"/>
<text x="216.8" y="719.4" font-size="31" text-anchor="middle" font-weight="normal" fill="#262626" font-family="'Liberation Serif','Times New Roman',serif">20</text>
<text x="420.1" y="719.4" font-size="31" text-anchor="middle" font-weight="normal" fill="#262626" font-family="'Liberation Serif','Times New Roman',serif">70</text>
<text x="623.4" y="719.4" font-size="31" text-anchor="middle" font-weight="normal" fill="#262626" font-family="'Liberation Serif','Times New Roman',serif">120</text>
<text x="826.7" y="719.4" font-size="31" text-anchor="middle" font-weight="normal" fill="#262626" font-family="'Liberation Serif','Times New Roman',serif">170</text>
<text x="205" y="690.8" font-size="31" text-anchor="end" font-weight="normal" fill="#262626" font-family="'Liberation Serif','Times New Roman',serif">0</text>
<text x="205" y="640.17" font-size="31" text-anchor="end" font-weight="normal" fill="#262626" font-family="'Liberation Serif','Times New Roman',serif">1</text>
<text x="205" y="589.53" font-size="31" text-anchor="end" font-weight="normal" fill="#262626" font-family="'Liberation Serif','Times New Roman',serif">2</text>
<text x="205" y="538.9" font-size="31" text-anchor="end" font-weight="normal" fill="#262626" font-family="'Liberation Serif','Times New Roman',serif">3</text>
<text x="0" y="0" font-size="35" text-anchor="start" font-weight="normal" fill="#262626" font-family="'Liberation Serif','Times New Roman',serif" transform="translate(216.5,525.7) scale(1.2,1)">×</text>
<text x="241.6" y="520.9" font-size="31" text-anchor="start" font-weight="normal" fill="#262626" font-family="'Liberation Serif','Times New Roman',serif">10</text>
<text x="272.3" y="505.7" font-size="23" text-anchor="start" font-weight="normal" fill="#262626" font-family="'Liberation Serif','Times New Roman',serif">-3</text>
<line x1="539.8" y1="528.7" x2="539.8" y2="679.7" stroke="#404040" stroke-width="4.4" stroke-dasharray="11.37 12.31"/>
<path d="M216.8,680.2 L298.7,680.2 L298.7,679.5 C301.82,679.18 310.97,678.43 317.4,677.6 C323.83,676.77 333.15,675.43 337.3,674.5 C341.45,673.57 340.43,672.83 342.3,672 C344.17,671.17 346,669.5 348.5,669.5 C351,669.5 353.77,670.95 357.3,672 C360.83,673.05 364.93,674.65 369.7,675.8 C374.47,676.95 380.08,678.08 385.9,678.9 C391.72,679.72 391.1,680.28 404.6,680.7 C418.1,681.12 456.52,681.28 466.9,681.4 L466.9,680.2 L826.7,680.2" fill="none" stroke="#000000" stroke-width="4.0" stroke-linejoin="round" stroke-linecap="butt"/>
<path d="M216.8,680.2 L346,680.2 L346,678.8 C348.5,678.08 356.42,676.25 361,674.5 C365.58,672.75 369.35,670.78 373.5,668.3 C377.65,665.82 383.2,662.52 385.9,659.6 C388.6,656.68 388.67,654.33 389.7,650.8 C390.73,647.27 391.07,641.72 392.1,638.4 C393.13,635.08 394.43,631.53 395.9,630.9 C397.37,630.27 399.23,632.52 400.9,634.6 C402.57,636.68 404.03,640.28 405.9,643.4 C407.77,646.52 409.2,649.78 412.1,653.3 C415,656.82 419.35,661.38 423.3,664.5 C427.25,667.62 430.6,669.82 435.8,672 C441,674.18 447.23,676.2 454.5,677.6 C461.77,679 475.25,679.93 479.4,680.4 L479.4,680.2 L826.7,680.2" fill="none" stroke="#ff0000" stroke-width="4.0" stroke-linejoin="round" stroke-linecap="butt"/>
<path d="M216.8,680.2 L373.5,680.2 L373.5,678.8 C375.57,677.47 381.75,673.8 385.9,670.8 C390.05,667.8 394.67,664.55 398.4,660.8 C402.13,657.05 406.02,652.03 408.3,648.3 C410.58,644.57 411.05,643.17 412.1,638.4 C413.15,633.63 413.77,626.13 414.6,619.7 C415.43,613.27 416.38,603.43 417.1,599.8 C417.82,596.17 418.07,597.28 418.9,597.9 C419.73,598.52 420.53,599.87 422.1,603.5 C423.67,607.13 426.02,613.88 428.3,619.7 C430.58,625.52 433.1,632.58 435.8,638.4 C438.5,644.22 441.38,649.83 444.5,654.6 C447.62,659.37 450.77,663.68 454.5,667 C458.23,670.32 461.72,672.42 466.9,674.5 C472.08,676.58 480.08,678.55 485.6,679.5 C491.12,680.45 497.6,680.08 500,680.2 L500,680.2 L826.7,680.2" fill="none" stroke="#0000ff" stroke-width="4.0" stroke-linejoin="round" stroke-linecap="butt"/>
<path d="M216.8,680.2 L382.2,680.2 L382.2,680.2 C384.27,678.83 390.25,675.85 394.6,672 C398.95,668.15 404.13,662.08 408.3,657.1 C412.47,652.12 416.9,647.08 419.6,642.1 C422.3,637.12 423.27,633.02 424.5,627.2 C425.73,621.38 426.17,614.68 427,607.2 C427.83,599.72 428.67,588 429.5,582.3 C430.33,576.6 430.95,573.42 432,573 C433.05,572.58 434.35,575.33 435.8,579.8 C437.25,584.27 438.63,592.12 440.7,599.8 C442.77,607.48 445.5,617.6 448.2,625.9 C450.9,634.2 453.78,642.95 456.9,649.6 C460.02,656.25 463.15,661.65 466.9,665.8 C470.65,669.95 474.2,672.22 479.4,674.5 C484.6,676.78 493,678.55 498.1,679.5 C503.2,680.45 508.02,680.08 510,680.2 L510,680.2 L826.7,680.2" fill="none" stroke="#00ff00" stroke-width="4.0" stroke-linejoin="round" stroke-linecap="butt"/>
<text x="239.6" y="580.6" font-size="38" text-anchor="start" font-weight="bold" fill="#000" font-family="'Liberation Serif','Times New Roman',serif">(c1)</text>
<rect x="912.8" y="528.5" width="613.6" height="151.7" fill="none" stroke="#4a4a4a" stroke-width="1.6"/>
<path d="M1066.2,680.2v-6.6M1066.2,528.5v6.6M1219.6,680.2v-6.6M1219.6,528.5v6.6M1373,680.2v-6.6M1373,528.5v6.6M912.8,642.28h6.6M1526.4,642.28h-6.6M912.8,604.35h6.6M1526.4,604.35h-6.6M912.8,566.42h6.6M1526.4,566.42h-6.6" stroke="#2e2e2e" stroke-width="1.3" fill="none"/>
<text x="912.8" y="719.4" font-size="31" text-anchor="middle" font-weight="normal" fill="#262626" font-family="'Liberation Serif','Times New Roman',serif">100</text>
<text x="1066.2" y="719.4" font-size="31" text-anchor="middle" font-weight="normal" fill="#262626" font-family="'Liberation Serif','Times New Roman',serif">120</text>
<text x="1219.6" y="719.4" font-size="31" text-anchor="middle" font-weight="normal" fill="#262626" font-family="'Liberation Serif','Times New Roman',serif">140</text>
<text x="1373" y="719.4" font-size="31" text-anchor="middle" font-weight="normal" fill="#262626" font-family="'Liberation Serif','Times New Roman',serif">160</text>
<text x="1526.4" y="719.4" font-size="31" text-anchor="middle" font-weight="normal" fill="#262626" font-family="'Liberation Serif','Times New Roman',serif">180</text>
<text x="901" y="690.8" font-size="31" text-anchor="end" font-weight="normal" fill="#262626" font-family="'Liberation Serif','Times New Roman',serif">0</text>
<text x="901" y="652.88" font-size="31" text-anchor="end" font-weight="normal" fill="#262626" font-family="'Liberation Serif','Times New Roman',serif">1</text>
<text x="901" y="614.95" font-size="31" text-anchor="end" font-weight="normal" fill="#262626" font-family="'Liberation Serif','Times New Roman',serif">2</text>
<text x="901" y="577.02" font-size="31" text-anchor="end" font-weight="normal" fill="#262626" font-family="'Liberation Serif','Times New Roman',serif">3</text>
<text x="901" y="539.1" font-size="31" text-anchor="end" font-weight="normal" fill="#262626" font-family="'Liberation Serif','Times New Roman',serif">4</text>
<text x="0" y="0" font-size="35" text-anchor="start" font-weight="normal" fill="#262626" font-family="'Liberation Serif','Times New Roman',serif" transform="translate(912.5,525.9) scale(1.2,1)">×</text>
<text x="937.6" y="521.1" font-size="31" text-anchor="start" font-weight="normal" fill="#262626" font-family="'Liberation Serif','Times New Roman',serif">10</text>
<text x="968.3" y="505.9" font-size="23" text-anchor="start" font-weight="normal" fill="#262626" font-family="'Liberation Serif','Times New Roman',serif">-4</text>
<line x1="1224.9" y1="529.1" x2="1224.9" y2="679.7" stroke="#404040" stroke-width="4.4" stroke-dasharray="11.26 12.19"/>
<path d="M912.8,680.2 L930.2,680.2 L930.2,679.9 C935.23,679.45 951.58,678.17 960.4,677.2 C969.22,676.23 976.8,675.25 983.1,674.1 C989.4,672.95 994.42,671.8 998.2,670.3 C1001.98,668.8 1003.4,666.48 1005.8,665.1 C1008.2,663.72 1010.33,662.13 1012.6,662 C1014.87,661.87 1016.77,662.78 1019.4,664.3 C1022.03,665.82 1024.38,668.95 1028.4,671.1 C1032.42,673.25 1037.2,675.73 1043.5,677.2 C1049.8,678.67 1054.87,679.35 1066.2,679.9 C1077.53,680.45 1103.95,680.4 1111.5,680.5 L1111.5,680.2 L1526.4,680.2" fill="none" stroke="#000000" stroke-width="4.0" stroke-linejoin="round" stroke-linecap="butt"/>
<path d="M912.8,680.2 L1004.3,680.2 L1004.3,679.2 C1005.3,678.1 1007.53,675.47 1010.3,672.6 C1013.07,669.73 1017.37,665.52 1020.9,662 C1024.43,658.48 1027.73,655.27 1031.5,651.5 C1035.27,647.73 1040.48,642.68 1043.5,639.4 C1046.52,636.12 1047.83,635.33 1049.6,631.8 C1051.37,628.27 1052.72,622.23 1054.1,618.2 C1055.48,614.17 1056.52,609.1 1057.9,607.6 C1059.28,606.1 1061.02,607.18 1062.4,609.2 C1063.78,611.22 1064.55,615.18 1066.2,619.7 C1067.85,624.22 1070.28,630.75 1072.3,636.3 C1074.32,641.85 1076.03,648.2 1078.3,653 C1080.57,657.8 1082.88,661.58 1085.9,665.1 C1088.92,668.62 1092.13,671.83 1096.4,674.1 C1100.67,676.37 1106.45,677.73 1111.5,678.7 C1116.55,679.67 1124.17,679.7 1126.7,679.9 L1126.7,680.2 L1526.4,680.2" fill="none" stroke="#ff0000" stroke-width="4.0" stroke-linejoin="round" stroke-linecap="butt"/>
<path d="M912.8,680.2 L1028.4,680.2 L1028.4,679.2 C1029.17,677.1 1031.23,670.72 1033,666.6 C1034.77,662.48 1035.98,659.28 1039,654.5 C1042.02,649.72 1047.07,643.2 1051.1,637.9 C1055.13,632.6 1059.93,627.48 1063.2,622.7 C1066.47,617.92 1068.68,614.23 1070.7,609.2 C1072.72,604.17 1074.03,597.42 1075.3,592.5 C1076.57,587.58 1077.17,582.08 1078.3,579.7 C1079.43,577.32 1080.97,576.82 1082.1,578.2 C1083.23,579.58 1083.72,582.58 1085.1,588 C1086.48,593.42 1088.52,602.9 1090.4,610.7 C1092.28,618.5 1094.13,627.75 1096.4,634.8 C1098.67,641.85 1100.97,647.45 1104,653 C1107.03,658.55 1110.82,664.33 1114.6,668.1 C1118.38,671.87 1122.17,673.72 1126.7,675.6 C1131.23,677.48 1137.27,678.63 1141.8,679.4 C1146.33,680.17 1151.88,680.07 1153.9,680.2 L1153.9,680.2 L1526.4,680.2" fill="none" stroke="#0000ff" stroke-width="4.0" stroke-linejoin="round" stroke-linecap="butt"/>
<path d="M912.8,680.2 L1043.5,680.2 L1043.5,680.2 C1044.02,678.43 1045.33,673.63 1046.6,669.6 C1047.87,665.57 1049.85,660.03 1051.1,656 C1052.35,651.97 1052.33,649.43 1054.1,645.4 C1055.87,641.37 1059.18,636.08 1061.7,631.8 C1064.22,627.52 1066.43,623.98 1069.2,619.7 C1071.97,615.42 1075.78,610.63 1078.3,606.1 C1080.82,601.57 1082.53,598.28 1084.3,592.5 C1086.07,586.72 1087.5,575.8 1088.9,571.4 C1090.3,567 1091.45,566.1 1092.7,566.1 C1093.95,566.1 1095.02,567 1096.4,571.4 C1097.78,575.8 1099.23,583.95 1101,592.5 C1102.77,601.05 1104.73,613.38 1107,622.7 C1109.27,632.02 1111.83,641.33 1114.6,648.4 C1117.37,655.47 1120.08,660.57 1123.6,665.1 C1127.12,669.63 1131.17,673.13 1135.7,675.6 C1140.23,678.07 1146.75,679.13 1150.8,679.9 C1154.85,680.67 1158.47,680.15 1160,680.2 L1160,680.2 L1526.4,680.2" fill="none" stroke="#00ff00" stroke-width="4.0" stroke-linejoin="round" stroke-linecap="butt"/>
<text x="938.7" y="580.6" font-size="38" text-anchor="start" font-weight="bold" fill="#000" font-family="'Liberation Serif','Times New Roman',serif">(c2)</text>
<rect x="1616.5" y="528.2" width="611.9" height="149.9" fill="none" stroke="#4a4a4a" stroke-width="1.6"/>
<path d="M1718.48,678.1v-6.6M1718.48,528.2v6.6M1820.47,678.1v-6.6M1820.47,528.2v6.6M1922.45,678.1v-6.6M1922.45,528.2v6.6M2024.43,678.1v-6.6M2024.43,528.2v6.6M2126.42,678.1v-6.6M2126.42,528.2v6.6M1616.5,628.13h6.6M2228.4,628.13h-6.6M1616.5,578.17h6.6M2228.4,578.17h-6.6" stroke="#2e2e2e" stroke-width="1.3" fill="none"/>
<text x="1616.5" y="717.3" font-size="31" text-anchor="middle" font-weight="normal" fill="#262626" font-family="'Liberation Serif','Times New Roman',serif">120</text>
<text x="1718.48" y="717.3" font-size="31" text-anchor="middle" font-weight="normal" fill="#262626" font-family="'Liberation Serif','Times New Roman',serif">130</text>
<text x="1820.47" y="717.3" font-size="31" text-anchor="middle" font-weight="normal" fill="#262626" font-family="'Liberation Serif','Times New Roman',serif">140</text>
<text x="1922.45" y="717.3" font-size="31" text-anchor="middle" font-weight="normal" fill="#262626" font-family="'Liberation Serif','Times New Roman',serif">150</text>
<text x="2024.43" y="717.3" font-size="31" text-anchor="middle" font-weight="normal" fill="#262626" font-family="'Liberation Serif','Times New Roman',serif">160</text>
<text x="2126.42" y="717.3" font-size="31" text-anchor="middle" font-weight="normal" fill="#262626" font-family="'Liberation Serif','Times New Roman',serif">170</text>
<text x="2228.4" y="717.3" font-size="31" text-anchor="middle" font-weight="normal" fill="#262626" font-family="'Liberation Serif','Times New Roman',serif">180</text>
<text x="1604.7" y="688.7" font-size="31" text-anchor="end" font-weight="normal" fill="#262626" font-family="'Liberation Serif','Times New Roman',serif">0</text>
<text x="1604.7" y="638.73" font-size="31" text-anchor="end" font-weight="normal" fill="#262626" font-family="'Liberation Serif','Times New Roman',serif">3</text>
<text x="1604.7" y="588.77" font-size="31" text-anchor="end" font-weight="normal" fill="#262626" font-family="'Liberation Serif','Times New Roman',serif">6</text>
<text x="1604.7" y="538.8" font-size="31" text-anchor="end" font-weight="normal" fill="#262626" font-family="'Liberation Serif','Times New Roman',serif">9</text>
<text x="0" y="0" font-size="35" text-anchor="start" font-weight="normal" fill="#262626" font-family="'Liberation Serif','Times New Roman',serif" transform="translate(1616.2,525.6) scale(1.2,1)">×</text>
<text x="1641.3" y="520.8" font-size="31" text-anchor="start" font-weight="normal" fill="#262626" font-family="'Liberation Serif','Times New Roman',serif">10</text>
<text x="1672" y="505.6" font-size="23" text-anchor="start" font-weight="normal" fill="#262626" font-family="'Liberation Serif','Times New Roman',serif">-5</text>
<line x1="1951.9" y1="528.8" x2="1951.9" y2="677.6" stroke="#404040" stroke-width="4.4" stroke-dasharray="11.17 12.1"/>
<path d="M1616.5,678.1 L1689.9,678.1 L1689.9,677.2 C1691.36,676.92 1709.21,673.56 1711.8,673 C1714.39,672.44 1726.45,669.36 1728.7,668.8 C1730.95,668.24 1743.71,664.99 1745.5,664.6 C1747.29,664.21 1754.47,662.73 1755.6,662.9 C1756.73,663.07 1761.5,666.37 1762.4,667.1 C1763.3,667.83 1767.97,673.18 1769.1,673.8 C1770.23,674.42 1777.5,676.11 1779.3,676.4 C1781.1,676.69 1792.73,677.95 1796.1,678.1 C1799.47,678.25 1827.65,678.57 1829.9,678.6 L1829.9,678.1 L2228.4,678.1" fill="none" stroke="#000000" stroke-width="4.0" stroke-linejoin="round" stroke-linecap="butt"/>
<path d="M1616.5,678.1 L1748.9,678.1 L1748.9,677.2 C1749.35,676.41 1754.81,667.2 1755.6,665.4 C1756.39,663.6 1760.08,652.11 1760.7,650.2 C1761.32,648.29 1764.11,638.27 1764.9,636.7 C1765.69,635.13 1771.54,627.83 1772.5,626.6 C1773.46,625.37 1778.4,619.33 1779.3,618.2 C1780.2,617.07 1784.99,611.05 1786,609.7 C1787.01,608.35 1793.5,597.79 1794.4,597.9 C1795.3,598.01 1798.71,608.93 1799.5,611.4 C1800.29,613.87 1805.3,632.19 1806.2,635 C1807.1,637.81 1811.99,651.35 1813,653.6 C1814.01,655.85 1820.05,667.28 1821.4,668.8 C1822.75,670.32 1830.95,675.78 1833.2,676.4 C1835.45,677.02 1853.73,677.99 1855.2,678.1 L1855.2,678.1 L2228.4,678.1" fill="none" stroke="#ff0000" stroke-width="4.0" stroke-linejoin="round" stroke-linecap="butt"/>
<path d="M1616.5,678.1 L1775,678.1 L1775,677.5 C1775.29,675.57 1778.57,652.23 1779.3,648.5 C1780.03,644.77 1785.27,624.75 1786,621.6 C1786.73,618.45 1789.3,604.01 1790.2,601.3 C1791.1,598.59 1798.32,583.45 1799.5,581 C1800.68,578.55 1807.11,566.05 1807.9,564.6 C1808.69,563.15 1810.79,559.56 1811.3,559.2 C1811.81,558.84 1814.94,558.19 1815.5,559.2 C1816.06,560.21 1818.97,570.82 1819.7,574.3 C1820.43,577.78 1825.6,607.24 1826.5,611.4 C1827.4,615.56 1832.07,633.66 1833.2,636.7 C1834.33,639.74 1841.93,654.69 1843.4,657 C1844.87,659.31 1853.29,669.95 1855.2,671.3 C1857.11,672.65 1870.01,676.75 1872,677.2 C1873.99,677.65 1884.13,678.04 1885,678.1 L1885,678.1 L2228.4,678.1" fill="none" stroke="#0000ff" stroke-width="4.0" stroke-linejoin="round" stroke-linecap="butt"/>
<path d="M1616.5,678.1 L1789.4,678.1 L1789.4,678.1 C1789.73,674.89 1793.73,634.67 1794.4,630 C1795.07,625.33 1798.82,611.36 1799.5,608.1 C1800.18,604.84 1803.7,584.03 1804.6,581.1 C1805.5,578.17 1811.99,566.67 1813,564.2 C1814.01,561.73 1818.86,546.02 1819.7,544 C1820.54,541.98 1824.92,533.9 1825.6,533.9 C1826.28,533.9 1829.27,541.53 1829.9,544 C1830.53,546.47 1834.21,566.95 1835,571 C1835.79,575.05 1840.83,600.7 1841.7,604.7 C1842.57,608.7 1847.02,627.83 1848,631 C1848.98,634.17 1855.09,649.48 1856.4,652.2 C1857.71,654.92 1866.03,670.07 1867.6,671.8 C1869.17,673.53 1879.17,677.68 1880,678.1 L1880,678.1 L2228.4,678.1" fill="none" stroke="#00ff00" stroke-width="4.0" stroke-linejoin="round" stroke-linecap="butt"/>
<text x="1640.3" y="580.6" font-size="38" text-anchor="start" font-weight="bold" fill="#000" font-family="'Liberation Serif','Times New Roman',serif">(c3)</text>
<rect x="217.3" y="772.3" width="609.2" height="150.5" fill="none" stroke="#4a4a4a" stroke-width="1.6"/>
<path d="M420.37,922.8v-6.6M420.37,772.3v6.6M623.43,922.8v-6.6M623.43,772.3v6.6M217.3,847.55h6.6M826.5,847.55h-6.6" stroke="#2e2e2e" stroke-width="1.3" fill="none"/>
<text x="217.3" y="962" font-size="31" text-anchor="middle" font-weight="normal" fill="#262626" font-family="'Liberation Serif','Times New Roman',serif">20</text>
<text x="420.37" y="962" font-size="31" text-anchor="middle" font-weight="normal" fill="#262626" font-family="'Liberation Serif','Times New Roman',serif">70</text>
<text x="623.43" y="962" font-size="31" text-anchor="middle" font-weight="normal" fill="#262626" font-family="'Liberation Serif','Times New Roman',serif">120</text>
<text x="826.5" y="962" font-size="31" text-anchor="middle" font-weight="normal" fill="#262626" font-family="'Liberation Serif','Times New Roman',serif">170</text>
<text x="205.5" y="933.4" font-size="31" text-anchor="end" font-weight="normal" fill="#262626" font-family="'Liberation Serif','Times New Roman',serif">0</text>
<text x="205.5" y="858.15" font-size="31" text-anchor="end" font-weight="normal" fill="#262626" font-family="'Liberation Serif','Times New Roman',serif">1</text>
<text x="205.5" y="782.9" font-size="31" text-anchor="end" font-weight="normal" fill="#262626" font-family="'Liberation Serif','Times New Roman',serif">2</text>
<text x="0" y="0" font-size="35" text-anchor="start" font-weight="normal" fill="#262626" font-family="'Liberation Serif','Times New Roman',serif" transform="translate(217,769.7) scale(1.2,1)">×</text>
<text x="242.1" y="764.9" font-size="31" text-anchor="start" font-weight="normal" fill="#262626" font-family="'Liberation Serif','Times New Roman',serif">10</text>
<text x="272.8" y="749.7" font-size="23" text-anchor="start" font-weight="normal" fill="#262626" font-family="'Liberation Serif','Times New Roman',serif">-4</text>
<line x1="424.5" y1="772.8" x2="424.5" y2="922.3" stroke="#404040" stroke-width="4.4" stroke-dasharray="11.24 12.18"/>
<path d="M217.3,922.8 L251.9,922.8 L251.9,921.2 C255.32,920.85 268.12,919.88 272.4,919.1 C276.68,918.32 275.78,918 277.6,916.5 C279.42,915 281.17,910.52 283.3,910.1 C285.43,909.68 287.72,912.25 290.4,914 C293.08,915.75 294.7,919.23 299.4,920.6 C304.1,921.97 308.98,921.77 318.6,922.2 C328.22,922.63 350.68,923.03 357.1,923.2 L357.1,922.8 L826.5,922.8" fill="none" stroke="#000000" stroke-width="4.0" stroke-linejoin="round" stroke-linecap="butt"/>
<path d="M217.3,922.8 L303.2,922.8 L303.2,921.2 C304.7,919.57 309.42,915.6 312.2,911.4 C314.98,907.2 317.97,902.42 319.9,896 C321.83,889.58 322.73,879.85 323.8,872.9 C324.87,865.95 325.23,856.23 326.3,854.3 C327.37,852.37 328.92,857.13 330.2,861.3 C331.48,865.47 332.5,873.52 334,879.3 C335.5,885.08 336.85,890.22 339.2,896 C341.55,901.78 344.05,909.73 348.1,914 C352.15,918.27 357.72,920.07 363.5,921.6 C369.28,923.13 379.58,922.93 382.8,923.2 L382.8,922.8 L826.5,922.8" fill="none" stroke="#ff0000" stroke-width="4.0" stroke-linejoin="round" stroke-linecap="butt"/>
<path d="M217.3,922.8 L325,922.8 L325,921.2 C326.72,917.85 332.73,908.08 335.3,901.1 C337.87,894.12 339.02,887 340.4,879.3 C341.78,871.6 342.73,861 343.6,854.9 C344.47,848.8 344.73,843.98 345.6,842.7 C346.47,841.42 347.73,842.82 348.8,847.2 C349.87,851.58 350.62,862.15 352,869 C353.38,875.85 354.97,881.88 357.1,888.3 C359.23,894.72 362.02,902.37 364.8,907.5 C367.58,912.63 370.38,916.53 373.8,919.1 C377.22,921.67 383.38,922.27 385.3,922.9 L385.3,922.8 L826.5,922.8" fill="none" stroke="#0000ff" stroke-width="4.0" stroke-linejoin="round" stroke-linecap="butt"/>
<path d="M217.3,922.8 L335.3,922.8 L335.3,922.8 C336.58,919.18 340.65,908.98 343,901.1 C345.35,893.22 347.8,884.05 349.4,875.5 C351,866.95 351.63,857.08 352.6,849.8 C353.57,842.52 354.23,833.52 355.2,831.8 C356.17,830.08 357.23,833.93 358.4,839.5 C359.57,845.07 360.48,856.22 362.2,865.2 C363.92,874.18 366.33,885.48 368.7,893.4 C371.07,901.32 373.42,908 376.4,912.7 C379.38,917.4 383.5,919.92 386.6,921.6 C389.7,923.28 393.6,922.6 395,922.8 L395,922.8 L826.5,922.8" fill="none" stroke="#00ff00" stroke-width="4.0" stroke-linejoin="round" stroke-linecap="butt"/>
<text x="239.6" y="825" font-size="38" text-anchor="start" font-weight="bold" fill="#000" font-family="'Liberation Serif','Times New Roman',serif">(d1)</text>
<rect x="914" y="772.7" width="613" height="150.8" fill="none" stroke="#4a4a4a" stroke-width="1.6"/>
<path d="M1067.25,923.5v-6.6M1067.25,772.7v6.6M1220.5,923.5v-6.6M1220.5,772.7v6.6M1373.75,923.5v-6.6M1373.75,772.7v6.6M914,848.1h6.6M1527,848.1h-6.6" stroke="#2e2e2e" stroke-width="1.3" fill="none"/>
<text x="914" y="962.7" font-size="31" text-anchor="middle" font-weight="normal" fill="#262626" font-family="'Liberation Serif','Times New Roman',serif">100</text>
<text x="1067.25" y="962.7" font-size="31" text-anchor="middle" font-weight="normal" fill="#262626" font-family="'Liberation Serif','Times New Roman',serif">120</text>
<text x="1220.5" y="962.7" font-size="31" text-anchor="middle" font-weight="normal" fill="#262626" font-family="'Liberation Serif','Times New Roman',serif">140</text>
<text x="1373.75" y="962.7" font-size="31" text-anchor="middle" font-weight="normal" fill="#262626" font-family="'Liberation Serif','Times New Roman',serif">160</text>
<text x="1527" y="962.7" font-size="31" text-anchor="middle" font-weight="normal" fill="#262626" font-family="'Liberation Serif','Times New Roman',serif">180</text>
<text x="902.2" y="934.1" font-size="31" text-anchor="end" font-weight="normal" fill="#262626" font-family="'Liberation Serif','Times New Roman',serif">0</text>
<text x="902.2" y="858.7" font-size="31" text-anchor="end" font-weight="normal" fill="#262626" font-family="'Liberation Serif','Times New Roman',serif">1</text>
<text x="902.2" y="783.3" font-size="31" text-anchor="end" font-weight="normal" fill="#262626" font-family="'Liberation Serif','Times New Roman',serif">2</text>
<text x="0" y="0" font-size="35" text-anchor="start" font-weight="normal" fill="#262626" font-family="'Liberation Serif','Times New Roman',serif" transform="translate(913.7,770.1) scale(1.2,1)">×</text>
<text x="938.8" y="765.3" font-size="31" text-anchor="start" font-weight="normal" fill="#262626" font-family="'Liberation Serif','Times New Roman',serif">10</text>
<text x="969.5" y="750.1" font-size="23" text-anchor="start" font-weight="normal" fill="#262626" font-family="'Liberation Serif','Times New Roman',serif">-5</text>
<line x1="1106" y1="773.9" x2="1106" y2="923" stroke="#404040" stroke-width="4.4" stroke-dasharray="11.26 12.19"/>
<path d="M914,923.5 L914.8,923.5 L914.8,923.1 C916.28,922.97 929.77,921.81 932.6,921.5 C935.43,921.19 946.15,919.37 948.7,919.4 C951.25,919.43 959.84,921.59 963.2,921.9 C966.56,922.21 984.83,922.91 989,923.1 C993.17,923.29 1011.18,924.11 1013.2,924.2 L1013.2,923.5 L1527,923.5" fill="none" stroke="#000000" stroke-width="4.0" stroke-linejoin="round" stroke-linecap="butt"/>
<path d="M914,923.5 L964.8,923.5 L964.8,922.3 C965.47,921.62 971.55,916.49 972.9,914.2 C974.25,911.91 979.92,897.89 981,894.8 C982.08,891.71 985.13,878.71 985.8,877.1 C986.47,875.49 988.46,875.5 989,875.5 C989.54,875.5 991.62,875.08 992.3,877.1 C992.97,879.12 996.3,896.61 997.1,899.7 C997.9,902.79 1000.96,912.32 1001.9,914.2 C1002.84,916.08 1006.11,921.49 1008.4,922.3 C1010.69,923.11 1027.65,923.77 1029.4,923.9 L1029.4,923.5 L1527,923.5" fill="none" stroke="#ff0000" stroke-width="4.0" stroke-linejoin="round" stroke-linecap="butt"/>
<path d="M914,923.5 L991.5,923.5 L991.5,922.3 C992.1,921.36 997.62,914.37 998.7,911 C999.78,907.63 1003.66,886.74 1004.4,881.9 C1005.14,877.06 1007.2,856.12 1007.6,852.9 C1008,849.67 1008.73,842.66 1009.2,843.2 C1009.67,843.74 1012.53,856.17 1013.2,859.4 C1013.88,862.62 1016.49,878.01 1017.3,881.9 C1018.11,885.79 1021.89,903.01 1022.9,906.1 C1023.91,909.19 1027.93,917.58 1029.4,919 C1030.88,920.42 1039.67,922.76 1040.6,923.1 L1040.6,923.5 L1527,923.5" fill="none" stroke="#0000ff" stroke-width="4.0" stroke-linejoin="round" stroke-linecap="butt"/>
<path d="M914,923.5 L1001.9,923.5 L1001.9,923.5 C1002.31,920.98 1005.99,899.08 1006.8,893.2 C1007.61,887.32 1010.87,860.56 1011.6,852.9 C1012.33,845.24 1014.86,806.07 1015.6,801.3 C1016.34,796.52 1019.89,795.07 1020.5,795.6 C1021.11,796.13 1022.3,802.93 1022.9,807.7 C1023.5,812.48 1026.89,846.04 1027.7,852.9 C1028.51,859.76 1031.66,884.76 1032.6,890 C1033.54,895.24 1037.79,913.04 1039,915.8 C1040.21,918.56 1046.42,922.49 1047.1,923.1 L1047.1,923.5 L1527,923.5" fill="none" stroke="#00ff00" stroke-width="4.0" stroke-linejoin="round" stroke-linecap="butt"/>
<text x="938.7" y="825" font-size="38" text-anchor="start" font-weight="bold" fill="#000" font-family="'Liberation Serif','Times New Roman',serif">(d2)</text>
<rect x="1615.5" y="772.7" width="612.9" height="151.2" fill="none" stroke="#4a4a4a" stroke-width="1.6"/>
<path d="M1717.65,923.9v-6.6M1717.65,772.7v6.6M1819.8,923.9v-6.6M1819.8,772.7v6.6M1921.95,923.9v-6.6M1921.95,772.7v6.6M2024.1,923.9v-6.6M2024.1,772.7v6.6M2126.25,923.9v-6.6M2126.25,772.7v6.6M1615.5,873.5h6.6M2228.4,873.5h-6.6M1615.5,823.1h6.6M2228.4,823.1h-6.6" stroke="#2e2e2e" stroke-width="1.3" fill="none"/>
<text x="1615.5" y="963.1" font-size="31" text-anchor="middle" font-weight="normal" fill="#262626" font-family="'Liberation Serif','Times New Roman',serif">120</text>
<text x="1717.65" y="963.1" font-size="31" text-anchor="middle" font-weight="normal" fill="#262626" font-family="'Liberation Serif','Times New Roman',serif">130</text>
<text x="1819.8" y="963.1" font-size="31" text-anchor="middle" font-weight="normal" fill="#262626" font-family="'Liberation Serif','Times New Roman',serif">140</text>
<text x="1921.95" y="963.1" font-size="31" text-anchor="middle" font-weight="normal" fill="#262626" font-family="'Liberation Serif','Times New Roman',serif">150</text>
<text x="2024.1" y="963.1" font-size="31" text-anchor="middle" font-weight="normal" fill="#262626" font-family="'Liberation Serif','Times New Roman',serif">160</text>
<text x="2126.25" y="963.1" font-size="31" text-anchor="middle" font-weight="normal" fill="#262626" font-family="'Liberation Serif','Times New Roman',serif">170</text>
<text x="2228.4" y="963.1" font-size="31" text-anchor="middle" font-weight="normal" fill="#262626" font-family="'Liberation Serif','Times New Roman',serif">180</text>
<text x="1603.7" y="934.5" font-size="31" text-anchor="end" font-weight="normal" fill="#262626" font-family="'Liberation Serif','Times New Roman',serif">0</text>
<text x="1603.7" y="884.1" font-size="31" text-anchor="end" font-weight="normal" fill="#262626" font-family="'Liberation Serif','Times New Roman',serif">1</text>
<text x="1603.7" y="833.7" font-size="31" text-anchor="end" font-weight="normal" fill="#262626" font-family="'Liberation Serif','Times New Roman',serif">2</text>
<text x="1603.7" y="783.3" font-size="31" text-anchor="end" font-weight="normal" fill="#262626" font-family="'Liberation Serif','Times New Roman',serif">3</text>
<text x="0" y="0" font-size="35" text-anchor="start" font-weight="normal" fill="#262626" font-family="'Liberation Serif','Times New Roman',serif" transform="translate(1615.2,770.1) scale(1.2,1)">×</text>
<text x="1640.3" y="765.3" font-size="31" text-anchor="start" font-weight="normal" fill="#262626" font-family="'Liberation Serif','Times New Roman',serif">10</text>
<text x="1671" y="750.1" font-size="23" text-anchor="start" font-weight="normal" fill="#262626" font-family="'Liberation Serif','Times New Roman',serif">-6</text>
<line x1="1861.5" y1="773" x2="1861.5" y2="923.4" stroke="#404040" stroke-width="4.4" stroke-dasharray="11.26 12.19"/>
<path d="M1615.5,923.9 L1657.6,923.9 L1657.6,923.4 L1694,922.2 L1713.6,923.4 L1713.6,923.9 L2228.4,923.9" fill="none" stroke="#000000" stroke-width="4.0" stroke-linejoin="round" stroke-linecap="butt"/>
<path d="M1615.5,923.9 L1716.4,923.9 L1716.4,923.4 L1722,921 L1733.2,910.4 L1738.8,912.6 L1744.4,919.6 L1755.6,923 L1766.8,923.8 L1766.8,923.9 L2228.4,923.9" fill="none" stroke="#ff0000" stroke-width="4.0" stroke-linejoin="round" stroke-linecap="butt"/>
<path d="M1615.5,923.9 L1737.4,923.9 L1737.4,923.4 L1747.2,894.4 L1752.8,846.8 L1757,883.2 L1762.6,916.8 L1769.6,923 L1783.6,923.9 L1783.6,923.9 L2228.4,923.9" fill="none" stroke="#0000ff" stroke-width="4.0" stroke-linejoin="round" stroke-linecap="butt"/>
<path d="M1615.5,923.9 L1752.8,923.9 L1752.8,923.9 L1757,849.6 L1762.6,814.6 L1768.2,793.6 L1772.4,888.8 L1778,919.6 L1785,923.9 L1785,923.9 L2228.4,923.9" fill="none" stroke="#00ff00" stroke-width="4.0" stroke-linejoin="round" stroke-linecap="butt"/>
<text x="1640.3" y="825" font-size="38" text-anchor="start" font-weight="bold" fill="#000" font-family="'Liberation Serif','Times New Roman',serif">(d3)</text>
<rect x="247.4" y="1026.8" width="581.9" height="157.5" fill="none" stroke="#4a4a4a" stroke-width="1.6"/>
<path d="M312.06,1184.3v-6.6M312.06,1026.8v6.6M441.37,1184.3v-6.6M441.37,1026.8v6.6M570.68,1184.3v-6.6M570.68,1026.8v6.6M699.99,1184.3v-6.6M699.99,1026.8v6.6M247.4,1152.8h6.6M829.3,1152.8h-6.6M247.4,1121.3h6.6M829.3,1121.3h-6.6M247.4,1089.8h6.6M829.3,1089.8h-6.6M247.4,1058.3h6.6M829.3,1058.3h-6.6" stroke="#2e2e2e" stroke-width="1.3" fill="none"/>
<text x="312.06" y="1224.3" font-size="31" text-anchor="middle" font-weight="normal" fill="#262626" font-family="'Liberation Serif','Times New Roman',serif">0.8</text>
<text x="441.37" y="1224.3" font-size="31" text-anchor="middle" font-weight="normal" fill="#262626" font-family="'Liberation Serif','Times New Roman',serif">1</text>
<text x="570.68" y="1224.3" font-size="31" text-anchor="middle" font-weight="normal" fill="#262626" font-family="'Liberation Serif','Times New Roman',serif">1.2</text>
<text x="699.99" y="1224.3" font-size="31" text-anchor="middle" font-weight="normal" fill="#262626" font-family="'Liberation Serif','Times New Roman',serif">1.4</text>
<text x="829.3" y="1224.3" font-size="31" text-anchor="middle" font-weight="normal" fill="#262626" font-family="'Liberation Serif','Times New Roman',serif">1.6</text>
<text x="235.4" y="1194.9" font-size="31" text-anchor="end" font-weight="normal" fill="#262626" font-family="'Liberation Serif','Times New Roman',serif">0</text>
<text x="235.4" y="1163.4" font-size="31" text-anchor="end" font-weight="normal" fill="#262626" font-family="'Liberation Serif','Times New Roman',serif">20</text>
<text x="235.4" y="1131.9" font-size="31" text-anchor="end" font-weight="normal" fill="#262626" font-family="'Liberation Serif','Times New Roman',serif">40</text>
<text x="235.4" y="1100.4" font-size="31" text-anchor="end" font-weight="normal" fill="#262626" font-family="'Liberation Serif','Times New Roman',serif">60</text>
<text x="235.4" y="1068.9" font-size="31" text-anchor="end" font-weight="normal" fill="#262626" font-family="'Liberation Serif','Times New Roman',serif">80</text>
<text x="235.4" y="1037.4" font-size="31" text-anchor="end" font-weight="normal" fill="#262626" font-family="'Liberation Serif','Times New Roman',serif">100</text>
<polyline points="247.4,1048.38 441.37,1078.62 635.33,1117.36 829.3,1148.55" fill="none" stroke="#000000" stroke-width="4.0" stroke-linejoin="round"/>
<circle cx="247.4" cy="1048.38" r="9.35" fill="#000"/>
<circle cx="441.37" cy="1078.62" r="9.35" fill="#000"/>
<circle cx="635.33" cy="1117.36" r="9.35" fill="#000"/>
<circle cx="829.3" cy="1148.55" r="9.35" fill="#000"/>
<polyline points="247.4,1066.02 441.37,1095.31 635.33,1127.28 829.3,1155.95" fill="none" stroke="#ff0000" stroke-width="4.0" stroke-linejoin="round"/>
<rect x="239.5" y="1058.12" width="15.8" height="15.8" fill="#f00"/>
<rect x="433.47" y="1087.41" width="15.8" height="15.8" fill="#f00"/>
<rect x="627.43" y="1119.38" width="15.8" height="15.8" fill="#f00"/>
<rect x="821.4" y="1148.05" width="15.8" height="15.8" fill="#f00"/>
<polyline points="247.4,1070.74 441.37,1098.46 635.33,1130.28 829.3,1159.26" fill="none" stroke="#0000ff" stroke-width="4.0" stroke-linejoin="round"/>
<path d="M235,1065.14 h24.8 l-12.4,21.1 z" fill="#00f"/>
<path d="M428.97,1092.86 h24.8 l-12.4,21.1 z" fill="#00f"/>
<path d="M622.93,1124.68 h24.8 l-12.4,21.1 z" fill="#00f"/>
<path d="M816.9,1153.66 h24.8 l-12.4,21.1 z" fill="#00f"/>
<polyline points="247.4,1076.25 441.37,1102.09 635.33,1133.43 829.3,1162.57" fill="none" stroke="#00ff00" stroke-width="4.0" stroke-linejoin="round"/>
<path d="M235,1084.05 h24.8 l-12.4,-21.8 z" fill="#0f0"/>
<path d="M428.97,1109.88 h24.8 l-12.4,-21.8 z" fill="#0f0"/>
<path d="M622.93,1141.23 h24.8 l-12.4,-21.8 z" fill="#0f0"/>
<path d="M816.9,1170.37 h24.8 l-12.4,-21.8 z" fill="#0f0"/>
<text x="270.8" y="1159.6" font-size="38" text-anchor="start" font-weight="bold" fill="#000" font-family="'Liberation Serif','Times New Roman',serif">(e1)</text>
<text x="538.35" y="1262.7" font-size="31" text-anchor="middle" font-weight="normal" fill="#262626" font-family="'Liberation Serif','Times New Roman',serif">Tidal amplitude (m)</text>
<rect x="930.6" y="1026.9" width="599.4" height="158.3" fill="none" stroke="#4a4a4a" stroke-width="1.6"/>
<path d="M997.2,1185.2v-6.6M997.2,1026.9v6.6M1130.4,1185.2v-6.6M1130.4,1026.9v6.6M1263.6,1185.2v-6.6M1263.6,1026.9v6.6M1396.8,1185.2v-6.6M1396.8,1026.9v6.6M930.6,1162.59h6.6M1530,1162.59h-6.6M930.6,1117.36h6.6M1530,1117.36h-6.6M930.6,1072.13h6.6M1530,1072.13h-6.6" stroke="#2e2e2e" stroke-width="1.3" fill="none"/>
<text x="997.2" y="1225.2" font-size="31" text-anchor="middle" font-weight="normal" fill="#262626" font-family="'Liberation Serif','Times New Roman',serif">0.8</text>
<text x="1130.4" y="1225.2" font-size="31" text-anchor="middle" font-weight="normal" fill="#262626" font-family="'Liberation Serif','Times New Roman',serif">1</text>
<text x="1263.6" y="1225.2" font-size="31" text-anchor="middle" font-weight="normal" fill="#262626" font-family="'Liberation Serif','Times New Roman',serif">1.2</text>
<text x="1396.8" y="1225.2" font-size="31" text-anchor="middle" font-weight="normal" fill="#262626" font-family="'Liberation Serif','Times New Roman',serif">1.4</text>
<text x="1530" y="1225.2" font-size="31" text-anchor="middle" font-weight="normal" fill="#262626" font-family="'Liberation Serif','Times New Roman',serif">1.6</text>
<text x="918.6" y="1173.19" font-size="31" text-anchor="end" font-weight="normal" fill="#262626" font-family="'Liberation Serif','Times New Roman',serif">10</text>
<text x="918.6" y="1127.96" font-size="31" text-anchor="end" font-weight="normal" fill="#262626" font-family="'Liberation Serif','Times New Roman',serif">20</text>
<text x="918.6" y="1082.73" font-size="31" text-anchor="end" font-weight="normal" fill="#262626" font-family="'Liberation Serif','Times New Roman',serif">30</text>
<text x="918.6" y="1037.5" font-size="31" text-anchor="end" font-weight="normal" fill="#262626" font-family="'Liberation Serif','Times New Roman',serif">40</text>
<polyline points="930.6,1032.33 1130.4,1073.49 1330.2,1116.45 1530,1168.28" fill="none" stroke="#000000" stroke-width="4.0" stroke-linejoin="round"/>
<circle cx="930.6" cy="1032.33" r="9.35" fill="#000"/>
<circle cx="1130.4" cy="1073.49" r="9.35" fill="#000"/>
<circle cx="1330.2" cy="1116.45" r="9.35" fill="#000"/>
<circle cx="1530" cy="1168.28" r="9.35" fill="#000"/>
<polyline points="930.6,1049.51 1130.4,1087.96 1330.2,1133.19 1530,1175.7" fill="none" stroke="#ff0000" stroke-width="4.0" stroke-linejoin="round"/>
<rect x="922.7" y="1041.61" width="15.8" height="15.8" fill="#f00"/>
<rect x="1122.5" y="1080.06" width="15.8" height="15.8" fill="#f00"/>
<rect x="1322.3" y="1125.29" width="15.8" height="15.8" fill="#f00"/>
<rect x="1522.1" y="1167.8" width="15.8" height="15.8" fill="#f00"/>
<polyline points="930.6,1054.49 1130.4,1092.93 1330.2,1135.9 1530,1178.87" fill="none" stroke="#0000ff" stroke-width="4.0" stroke-linejoin="round"/>
<path d="M918.2,1048.89 h24.8 l-12.4,21.1 z" fill="#00f"/>
<path d="M1118,1087.33 h24.8 l-12.4,21.1 z" fill="#00f"/>
<path d="M1317.8,1130.3 h24.8 l-12.4,21.1 z" fill="#00f"/>
<path d="M1517.6,1173.27 h24.8 l-12.4,21.1 z" fill="#00f"/>
<polyline points="930.6,1058.56 1130.4,1094.29 1330.2,1137.71 1530,1180.41" fill="none" stroke="#00ff00" stroke-width="4.0" stroke-linejoin="round"/>
<path d="M918.2,1066.36 h24.8 l-12.4,-21.8 z" fill="#0f0"/>
<path d="M1118,1102.09 h24.8 l-12.4,-21.8 z" fill="#0f0"/>
<path d="M1317.8,1145.51 h24.8 l-12.4,-21.8 z" fill="#0f0"/>
<path d="M1517.6,1188.21 h24.8 l-12.4,-21.8 z" fill="#0f0"/>
<text x="954" y="1159.6" font-size="38" text-anchor="start" font-weight="bold" fill="#000" font-family="'Liberation Serif','Times New Roman',serif">(e2)</text>
<text x="1230.3" y="1263.6" font-size="31" text-anchor="middle" font-weight="normal" fill="#262626" font-family="'Liberation Serif','Times New Roman',serif">Tidal amplitude (m)</text>
<rect x="1631.6" y="1026.9" width="600" height="158.5" fill="none" stroke="#4a4a4a" stroke-width="1.6"/>
<path d="M1698.27,1185.4v-6.6M1698.27,1026.9v6.6M1831.6,1185.4v-6.6M1831.6,1026.9v6.6M1964.93,1185.4v-6.6M1964.93,1026.9v6.6M2098.27,1185.4v-6.6M2098.27,1026.9v6.6M1631.6,1153.7h6.6M2231.6,1153.7h-6.6M1631.6,1122h6.6M2231.6,1122h-6.6M1631.6,1090.3h6.6M2231.6,1090.3h-6.6M1631.6,1058.6h6.6M2231.6,1058.6h-6.6" stroke="#2e2e2e" stroke-width="1.3" fill="none"/>
<text x="1698.27" y="1225.4" font-size="31" text-anchor="middle" font-weight="normal" fill="#262626" font-family="'Liberation Serif','Times New Roman',serif">0.8</text>
<text x="1831.6" y="1225.4" font-size="31" text-anchor="middle" font-weight="normal" fill="#262626" font-family="'Liberation Serif','Times New Roman',serif">1</text>
<text x="1964.93" y="1225.4" font-size="31" text-anchor="middle" font-weight="normal" fill="#262626" font-family="'Liberation Serif','Times New Roman',serif">1.2</text>
<text x="2098.27" y="1225.4" font-size="31" text-anchor="middle" font-weight="normal" fill="#262626" font-family="'Liberation Serif','Times New Roman',serif">1.4</text>
<text x="2231.6" y="1225.4" font-size="31" text-anchor="middle" font-weight="normal" fill="#262626" font-family="'Liberation Serif','Times New Roman',serif">1.6</text>
<text x="1619.6" y="1196" font-size="31" text-anchor="end" font-weight="normal" fill="#262626" font-family="'Liberation Serif','Times New Roman',serif">0</text>
<text x="1619.6" y="1164.3" font-size="31" text-anchor="end" font-weight="normal" fill="#262626" font-family="'Liberation Serif','Times New Roman',serif">5</text>
<text x="1619.6" y="1132.6" font-size="31" text-anchor="end" font-weight="normal" fill="#262626" font-family="'Liberation Serif','Times New Roman',serif">10</text>
<text x="1619.6" y="1100.9" font-size="31" text-anchor="end" font-weight="normal" fill="#262626" font-family="'Liberation Serif','Times New Roman',serif">15</text>
<text x="1619.6" y="1069.2" font-size="31" text-anchor="end" font-weight="normal" fill="#262626" font-family="'Liberation Serif','Times New Roman',serif">20</text>
<text x="1619.6" y="1037.5" font-size="31" text-anchor="end" font-weight="normal" fill="#262626" font-family="'Liberation Serif','Times New Roman',serif">25</text>
<polyline points="1631.6,1038.31 1831.6,1073.18 2031.6,1114.39 2231.6,1165.43" fill="none" stroke="#000000" stroke-width="4.0" stroke-linejoin="round"/>
<circle cx="1631.6" cy="1038.31" r="9.35" fill="#000"/>
<circle cx="1831.6" cy="1073.18" r="9.35" fill="#000"/>
<circle cx="2031.6" cy="1114.39" r="9.35" fill="#000"/>
<circle cx="2231.6" cy="1165.43" r="9.35" fill="#000"/>
<polyline points="1631.6,1049.09 1831.6,1087.13 2031.6,1128.02 2231.6,1166.13" fill="none" stroke="#ff0000" stroke-width="4.0" stroke-linejoin="round"/>
<rect x="1623.7" y="1041.19" width="15.8" height="15.8" fill="#f00"/>
<rect x="1823.7" y="1079.23" width="15.8" height="15.8" fill="#f00"/>
<rect x="2023.7" y="1120.12" width="15.8" height="15.8" fill="#f00"/>
<rect x="2223.7" y="1158.23" width="15.8" height="15.8" fill="#f00"/>
<polyline points="1631.6,1053.53 1831.6,1088.4 2031.6,1126.44 2231.6,1167.39" fill="none" stroke="#0000ff" stroke-width="4.0" stroke-linejoin="round"/>
<path d="M1619.2,1047.93 h24.8 l-12.4,21.1 z" fill="#00f"/>
<path d="M1819.2,1082.8 h24.8 l-12.4,21.1 z" fill="#00f"/>
<path d="M2019.2,1120.84 h24.8 l-12.4,21.1 z" fill="#00f"/>
<path d="M2219.2,1161.79 h24.8 l-12.4,21.1 z" fill="#00f"/>
<polyline points="1631.6,1052.26 1831.6,1090.3 2031.6,1131.19 2231.6,1169.55" fill="none" stroke="#00ff00" stroke-width="4.0" stroke-linejoin="round"/>
<path d="M1619.2,1060.06 h24.8 l-12.4,-21.8 z" fill="#0f0"/>
<path d="M1819.2,1098.1 h24.8 l-12.4,-21.8 z" fill="#0f0"/>
<path d="M2019.2,1138.99 h24.8 l-12.4,-21.8 z" fill="#0f0"/>
<path d="M2219.2,1177.35 h24.8 l-12.4,-21.8 z" fill="#0f0"/>
<text x="1655" y="1159.6" font-size="38" text-anchor="start" font-weight="bold" fill="#000" font-family="'Liberation Serif','Times New Roman',serif">(e3)</text>
<text x="1931.6" y="1263.8" font-size="31" text-anchor="middle" font-weight="normal" fill="#262626" font-family="'Liberation Serif','Times New Roman',serif">Tidal amplitude (m)</text>
<text x="0" y="0" font-size="31" text-anchor="middle" font-weight="normal" fill="#262626" font-family="'Liberation Serif','Times New Roman',serif" transform="translate(176.9,114.7) rotate(-90)">Thickness (m)</text>
<text x="0" y="0" font-size="31" text-anchor="middle" font-weight="normal" fill="#262626" font-family="'Liberation Serif','Times New Roman',serif" transform="translate(176.9,359.8) rotate(-90)">Thickness (m)</text>
<text x="0" y="0" font-size="31" text-anchor="middle" font-weight="normal" fill="#262626" font-family="'Liberation Serif','Times New Roman',serif" transform="translate(176.9,604.95) rotate(-90)">Thickness (m)</text>
<text x="0" y="0" font-size="31" text-anchor="middle" font-weight="normal" fill="#262626" font-family="'Liberation Serif','Times New Roman',serif" transform="translate(176.9,848.25) rotate(-90)">Thickness (m)</text>
<text x="0" y="0" font-size="31" text-anchor="middle" font-weight="normal" fill="#262626" font-family="'Liberation Serif','Times New Roman',serif" transform="translate(177.6,1108.05) rotate(-90)">Width (m)</text>
<text x="521.9" y="999.8" font-size="31" text-anchor="middle" fill="#262626" font-family="'Liberation Serif','Times New Roman',serif"><tspan font-style="italic">x</tspan> (m)</text>
<text x="1220.5" y="999.8" font-size="31" text-anchor="middle" fill="#262626" font-family="'Liberation Serif','Times New Roman',serif"><tspan font-style="italic">x</tspan> (m)</text>
<text x="1921.95" y="999.8" font-size="31" text-anchor="middle" fill="#262626" font-family="'Liberation Serif','Times New Roman',serif"><tspan font-style="italic">x</tspan> (m)</text>
<text x="0" y="0" font-size="38" text-anchor="middle" font-weight="bold" fill="#000" font-family="'Liberation Serif','Times New Roman',serif" transform="translate(83.8,115.8) rotate(-90)">0.7</text>
<text x="0" y="0" font-size="38" text-anchor="middle" font-weight="bold" fill="#000" font-family="'Liberation Serif','Times New Roman',serif" transform="translate(83.8,360.2) rotate(-90)">1.0</text>
<text x="0" y="0" font-size="38" text-anchor="middle" font-weight="bold" fill="#000" font-family="'Liberation Serif','Times New Roman',serif" transform="translate(83.8,603.6) rotate(-90)">1.3</text>
<text x="0" y="0" font-size="38" text-anchor="middle" font-weight="bold" fill="#000" font-family="'Liberation Serif','Times New Roman',serif" transform="translate(83.8,858) rotate(-90)">1.6</text>
<text x="0" y="0" font-size="38" text-anchor="middle" font-weight="bold" fill="#000" font-family="'Liberation Serif','Times New Roman',serif" transform="translate(26.6,501.3) rotate(-90)">Tidal amplitude (m)</text>
<text x="517.3" y="1306.6" font-size="38" text-anchor="middle" font-weight="bold" fill="#000" font-family="'Liberation Serif','Times New Roman',serif">0.01</text>
<text x="1217.6" y="1306.6" font-size="38" text-anchor="middle" font-weight="bold" fill="#000" font-family="'Liberation Serif','Times New Roman',serif">0.02</text>
<text x="1928.9" y="1306.6" font-size="38" text-anchor="middle" font-weight="bold" fill="#000" font-family="'Liberation Serif','Times New Roman',serif">0.03</text>
<text x="1217.8" y="1355.6" font-size="37.6" text-anchor="middle" font-weight="bold" fill="#000" font-family="'Liberation Serif','Times New Roman',serif">Slope of marsh platform</text>
<text x="2046.6" y="338.9" font-size="31" text-anchor="end" font-weight="normal" fill="#000" font-family="'Liberation Serif','Times New Roman',serif">Supratidal</text>
<text x="2046.6" y="375.4" font-size="31" text-anchor="end" font-weight="normal" fill="#000" font-family="'Liberation Serif','Times New Roman',serif">zone</text>
<text x="2076" y="338.9" font-size="31" text-anchor="start" font-weight="normal" fill="#000" font-family="'Liberation Serif','Times New Roman',serif">Intertidal</text>
<text x="2076" y="375.8" font-size="31" text-anchor="start" font-weight="normal" fill="#000" font-family="'Liberation Serif','Times New Roman',serif">zone</text>
<line x1="503" y1="813" x2="559.6" y2="813" stroke="#000" stroke-width="5"/>
<text x="565.2" y="825.9" font-size="32" text-anchor="start" font-weight="normal" fill="#000" font-family="'Liberation Sans',Arial,sans-serif" letter-spacing="0.3">evp 2</text>
<line x1="654.2" y1="813" x2="711" y2="813" stroke="#f00" stroke-width="5"/>
<text x="716.1" y="825.9" font-size="32" text-anchor="start" font-weight="normal" fill="#000" font-family="'Liberation Sans',Arial,sans-serif" letter-spacing="0.3">evp 4</text>
<line x1="503" y1="856.5" x2="560.1" y2="856.5" stroke="#00f" stroke-width="5"/>
<text x="565.2" y="868.7" font-size="32" text-anchor="start" font-weight="normal" fill="#000" font-family="'Liberation Sans',Arial,sans-serif" letter-spacing="0.3">evp 6</text>
<line x1="655" y1="856.5" x2="711.8" y2="856.5" stroke="#0f0" stroke-width="5"/>
<text x="716.9" y="868.7" font-size="32" text-anchor="start" font-weight="normal" fill="#000" font-family="'Liberation Sans',Arial,sans-serif" letter-spacing="0.3">evp 8</text>
<rect x="805.2" y="810.5" width="1.7" height="5.3" fill="#b8b8ff"/>
</svg></body></html>
